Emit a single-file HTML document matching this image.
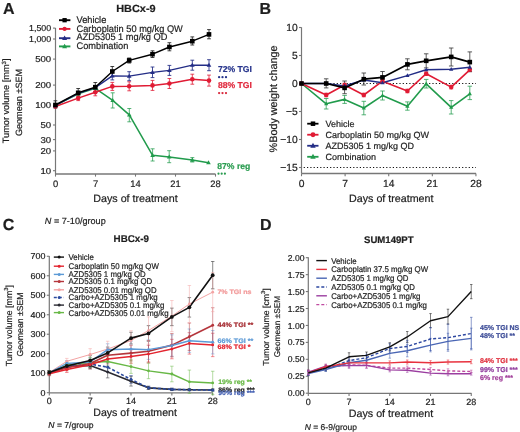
<!DOCTYPE html>
<html><head><meta charset="utf-8"><style>
html,body{margin:0;padding:0;background:#fff;}
svg{display:block;font-family:"Liberation Sans", sans-serif;text-rendering:geometricPrecision;will-change:transform;}

</style></head><body>
<svg width="520" height="432" viewBox="0 0 520 432">
<rect width="520" height="432" fill="#fff"/>
<text x="2.90" y="13.60" font-size="16" fill="#1e1e1e" stroke="#1e1e1e" stroke-width="0.2" font-weight="bold" text-anchor="start" >A</text>
<text transform="translate(135.90,12.10) scale(1.06,1)" font-size="10.3" fill="#1e1e1e" stroke="#1e1e1e" stroke-width="0.2" font-weight="bold" text-anchor="middle" >HBCx-9</text>
<line x1="55.50" y1="28.00" x2="55.50" y2="174.00" stroke="#777" stroke-width="1.2" opacity="1"/>
<line x1="53.00" y1="28.10" x2="55.50" y2="28.10" stroke="#777" stroke-width="1.1" opacity="1"/>
<text transform="translate(51.20,31.20) scale(1.03,1)" font-size="8.6" fill="#1e1e1e" stroke="#1e1e1e" stroke-width="0.2" font-weight="normal" text-anchor="end" >1,500</text>
<line x1="53.00" y1="39.00" x2="55.50" y2="39.00" stroke="#777" stroke-width="1.1" opacity="1"/>
<text transform="translate(51.20,42.10) scale(1.03,1)" font-size="8.6" fill="#1e1e1e" stroke="#1e1e1e" stroke-width="0.2" font-weight="normal" text-anchor="end" >1,000</text>
<line x1="53.00" y1="59.10" x2="55.50" y2="59.10" stroke="#777" stroke-width="1.1" opacity="1"/>
<text transform="translate(51.20,62.20) scale(1.12,1)" font-size="8.6" fill="#1e1e1e" stroke="#1e1e1e" stroke-width="0.2" font-weight="normal" text-anchor="end" >500</text>
<line x1="53.00" y1="85.10" x2="55.50" y2="85.10" stroke="#777" stroke-width="1.1" opacity="1"/>
<text transform="translate(51.20,88.20) scale(1.12,1)" font-size="8.6" fill="#1e1e1e" stroke="#1e1e1e" stroke-width="0.2" font-weight="normal" text-anchor="end" >200</text>
<line x1="53.00" y1="105.20" x2="55.50" y2="105.20" stroke="#777" stroke-width="1.1" opacity="1"/>
<text transform="translate(51.20,108.30) scale(1.12,1)" font-size="8.6" fill="#1e1e1e" stroke="#1e1e1e" stroke-width="0.2" font-weight="normal" text-anchor="end" >100</text>
<line x1="53.00" y1="125.00" x2="55.50" y2="125.00" stroke="#777" stroke-width="1.1" opacity="1"/>
<text transform="translate(51.20,128.10) scale(1.12,1)" font-size="8.6" fill="#1e1e1e" stroke="#1e1e1e" stroke-width="0.2" font-weight="normal" text-anchor="end" >50</text>
<line x1="53.00" y1="139.60" x2="55.50" y2="139.60" stroke="#777" stroke-width="1.1" opacity="1"/>
<text transform="translate(51.20,142.70) scale(1.12,1)" font-size="8.6" fill="#1e1e1e" stroke="#1e1e1e" stroke-width="0.2" font-weight="normal" text-anchor="end" >30</text>
<line x1="53.00" y1="150.90" x2="55.50" y2="150.90" stroke="#777" stroke-width="1.1" opacity="1"/>
<text transform="translate(51.20,154.00) scale(1.12,1)" font-size="8.6" fill="#1e1e1e" stroke="#1e1e1e" stroke-width="0.2" font-weight="normal" text-anchor="end" >20</text>
<line x1="53.00" y1="170.70" x2="55.50" y2="170.70" stroke="#777" stroke-width="1.1" opacity="1"/>
<text transform="translate(51.20,173.80) scale(1.12,1)" font-size="8.6" fill="#1e1e1e" stroke="#1e1e1e" stroke-width="0.2" font-weight="normal" text-anchor="end" >10</text>
<line x1="55.50" y1="174.00" x2="215.50" y2="174.00" stroke="#777" stroke-width="1.3" opacity="1"/>
<line x1="55.50" y1="174.00" x2="55.50" y2="176.60" stroke="#777" stroke-width="1.1" opacity="1"/>
<text x="55.50" y="186.60" font-size="9.4" fill="#1e1e1e" stroke="#1e1e1e" stroke-width="0.2" font-weight="normal" text-anchor="middle" >0</text>
<line x1="95.50" y1="174.00" x2="95.50" y2="176.60" stroke="#777" stroke-width="1.1" opacity="1"/>
<text x="95.50" y="186.60" font-size="9.4" fill="#1e1e1e" stroke="#1e1e1e" stroke-width="0.2" font-weight="normal" text-anchor="middle" >7</text>
<line x1="135.50" y1="174.00" x2="135.50" y2="176.60" stroke="#777" stroke-width="1.1" opacity="1"/>
<text x="135.50" y="186.60" font-size="9.4" fill="#1e1e1e" stroke="#1e1e1e" stroke-width="0.2" font-weight="normal" text-anchor="middle" >14</text>
<line x1="175.50" y1="174.00" x2="175.50" y2="176.60" stroke="#777" stroke-width="1.1" opacity="1"/>
<text x="175.50" y="186.60" font-size="9.4" fill="#1e1e1e" stroke="#1e1e1e" stroke-width="0.2" font-weight="normal" text-anchor="middle" >21</text>
<line x1="215.50" y1="174.00" x2="215.50" y2="176.60" stroke="#777" stroke-width="1.1" opacity="1"/>
<text x="215.50" y="186.60" font-size="9.4" fill="#1e1e1e" stroke="#1e1e1e" stroke-width="0.2" font-weight="normal" text-anchor="middle" >28</text>
<text x="135.50" y="202.20" font-size="10.7" fill="#1e1e1e" stroke="#1e1e1e" stroke-width="0.2" font-weight="normal" text-anchor="middle" >Days of treatment</text>
<text transform="translate(9.2,100.9) rotate(-90)" font-size="9.2" fill="#1e1e1e" stroke="#1e1e1e" stroke-width="0.2" text-anchor="middle">Tumor volume [mm<tspan font-size="6" dy="-3.5">3</tspan><tspan dy="3.5">]</tspan></text>
<text transform="translate(21.6,102.5) rotate(-90)" font-size="9.1" fill="#1e1e1e" stroke="#1e1e1e" stroke-width="0.2" text-anchor="middle">Geomean ±SEM</text>
<line x1="59.00" y1="20.20" x2="70.40" y2="20.20" stroke="#000" stroke-width="1.9" opacity="1"/>
<rect x="62.45" y="18.05" width="4.3" height="4.3" fill="#000"/>
<text transform="translate(76.50,23.10) scale(0.963,1)" font-size="9.6" fill="#1e1e1e" stroke="#1e1e1e" stroke-width="0.2" font-weight="normal" text-anchor="start" >Vehicle</text>
<line x1="59.00" y1="28.90" x2="70.40" y2="28.90" stroke="#e01b34" stroke-width="1.9" opacity="1"/>
<circle cx="64.60" cy="28.90" r="2.15" fill="#e01b34"/>
<text transform="translate(76.50,31.90) scale(0.963,1)" font-size="9.6" fill="#1e1e1e" stroke="#1e1e1e" stroke-width="0.2" font-weight="normal" text-anchor="start" >Carboplatin 50 mg/kg QW</text>
<line x1="59.00" y1="38.20" x2="70.40" y2="38.20" stroke="#232d86" stroke-width="1.9" opacity="1"/>
<polygon points="64.60,35.50 62.10,40.00 67.10,40.00" fill="#232d86"/>
<text transform="translate(76.50,40.40) scale(0.963,1)" font-size="9.6" fill="#1e1e1e" stroke="#1e1e1e" stroke-width="0.2" font-weight="normal" text-anchor="start" >AZD5305 1 mg/kg QD</text>
<line x1="59.00" y1="46.40" x2="70.40" y2="46.40" stroke="#219b4c" stroke-width="1.9" opacity="1"/>
<polygon points="64.60,43.70 62.10,48.20 67.10,48.20" fill="#219b4c"/>
<text transform="translate(76.50,48.70) scale(0.963,1)" font-size="9.6" fill="#1e1e1e" stroke="#1e1e1e" stroke-width="0.2" font-weight="normal" text-anchor="start" >Combination</text>
<line x1="112.70" y1="92.80" x2="112.70" y2="108.00" stroke="#219b4c" stroke-width="1" opacity="0.75"/>
<line x1="110.70" y1="92.80" x2="114.70" y2="92.80" stroke="#219b4c" stroke-width="1" opacity="0.75"/>
<line x1="110.70" y1="108.00" x2="114.70" y2="108.00" stroke="#219b4c" stroke-width="1" opacity="0.75"/>
<line x1="129.30" y1="108.50" x2="129.30" y2="121.80" stroke="#219b4c" stroke-width="1" opacity="0.75"/>
<line x1="127.30" y1="108.50" x2="131.30" y2="108.50" stroke="#219b4c" stroke-width="1" opacity="0.75"/>
<line x1="127.30" y1="121.80" x2="131.30" y2="121.80" stroke="#219b4c" stroke-width="1" opacity="0.75"/>
<line x1="152.60" y1="148.80" x2="152.60" y2="161.00" stroke="#219b4c" stroke-width="1" opacity="0.75"/>
<line x1="150.60" y1="148.80" x2="154.60" y2="148.80" stroke="#219b4c" stroke-width="1" opacity="0.75"/>
<line x1="150.60" y1="161.00" x2="154.60" y2="161.00" stroke="#219b4c" stroke-width="1" opacity="0.75"/>
<line x1="169.20" y1="150.70" x2="169.20" y2="162.70" stroke="#219b4c" stroke-width="1" opacity="0.75"/>
<line x1="167.20" y1="150.70" x2="171.20" y2="150.70" stroke="#219b4c" stroke-width="1" opacity="0.75"/>
<line x1="167.20" y1="162.70" x2="171.20" y2="162.70" stroke="#219b4c" stroke-width="1" opacity="0.75"/>
<line x1="192.30" y1="157.60" x2="192.30" y2="162.00" stroke="#219b4c" stroke-width="1" opacity="0.75"/>
<line x1="190.30" y1="157.60" x2="194.30" y2="157.60" stroke="#219b4c" stroke-width="1" opacity="0.75"/>
<line x1="190.30" y1="162.00" x2="194.30" y2="162.00" stroke="#219b4c" stroke-width="1" opacity="0.75"/>
<line x1="78.20" y1="95.60" x2="78.20" y2="100.60" stroke="#e01b34" stroke-width="1" opacity="0.8"/>
<line x1="76.30" y1="95.60" x2="80.10" y2="95.60" stroke="#e01b34" stroke-width="1" opacity="0.8"/>
<line x1="76.30" y1="100.60" x2="80.10" y2="100.60" stroke="#e01b34" stroke-width="1" opacity="0.8"/>
<line x1="95.30" y1="88.80" x2="95.30" y2="95.80" stroke="#e01b34" stroke-width="1" opacity="0.8"/>
<line x1="93.40" y1="88.80" x2="97.20" y2="88.80" stroke="#e01b34" stroke-width="1" opacity="0.8"/>
<line x1="93.40" y1="95.80" x2="97.20" y2="95.80" stroke="#e01b34" stroke-width="1" opacity="0.8"/>
<line x1="112.30" y1="82.40" x2="112.30" y2="90.40" stroke="#e01b34" stroke-width="1" opacity="0.8"/>
<line x1="110.40" y1="82.40" x2="114.20" y2="82.40" stroke="#e01b34" stroke-width="1" opacity="0.8"/>
<line x1="110.40" y1="90.40" x2="114.20" y2="90.40" stroke="#e01b34" stroke-width="1" opacity="0.8"/>
<line x1="129.20" y1="81.80" x2="129.20" y2="90.80" stroke="#e01b34" stroke-width="1" opacity="0.8"/>
<line x1="127.30" y1="81.80" x2="131.10" y2="81.80" stroke="#e01b34" stroke-width="1" opacity="0.8"/>
<line x1="127.30" y1="90.80" x2="131.10" y2="90.80" stroke="#e01b34" stroke-width="1" opacity="0.8"/>
<line x1="152.50" y1="80.40" x2="152.50" y2="90.40" stroke="#e01b34" stroke-width="1" opacity="0.8"/>
<line x1="150.60" y1="80.40" x2="154.40" y2="80.40" stroke="#e01b34" stroke-width="1" opacity="0.8"/>
<line x1="150.60" y1="90.40" x2="154.40" y2="90.40" stroke="#e01b34" stroke-width="1" opacity="0.8"/>
<line x1="169.40" y1="78.50" x2="169.40" y2="88.50" stroke="#e01b34" stroke-width="1" opacity="0.8"/>
<line x1="167.50" y1="78.50" x2="171.30" y2="78.50" stroke="#e01b34" stroke-width="1" opacity="0.8"/>
<line x1="167.50" y1="88.50" x2="171.30" y2="88.50" stroke="#e01b34" stroke-width="1" opacity="0.8"/>
<line x1="192.30" y1="74.20" x2="192.30" y2="84.20" stroke="#e01b34" stroke-width="1" opacity="0.8"/>
<line x1="190.40" y1="74.20" x2="194.20" y2="74.20" stroke="#e01b34" stroke-width="1" opacity="0.8"/>
<line x1="190.40" y1="84.20" x2="194.20" y2="84.20" stroke="#e01b34" stroke-width="1" opacity="0.8"/>
<line x1="209.00" y1="75.10" x2="209.00" y2="86.10" stroke="#e01b34" stroke-width="1" opacity="0.8"/>
<line x1="207.10" y1="75.10" x2="210.90" y2="75.10" stroke="#e01b34" stroke-width="1" opacity="0.8"/>
<line x1="207.10" y1="86.10" x2="210.90" y2="86.10" stroke="#e01b34" stroke-width="1" opacity="0.8"/>
<line x1="112.30" y1="71.90" x2="112.30" y2="79.90" stroke="#232d86" stroke-width="1" opacity="0.85"/>
<line x1="110.40" y1="71.90" x2="114.20" y2="71.90" stroke="#232d86" stroke-width="1" opacity="0.85"/>
<line x1="110.40" y1="79.90" x2="114.20" y2="79.90" stroke="#232d86" stroke-width="1" opacity="0.85"/>
<line x1="129.20" y1="71.70" x2="129.20" y2="80.70" stroke="#232d86" stroke-width="1" opacity="0.85"/>
<line x1="127.30" y1="71.70" x2="131.10" y2="71.70" stroke="#232d86" stroke-width="1" opacity="0.85"/>
<line x1="127.30" y1="80.70" x2="131.10" y2="80.70" stroke="#232d86" stroke-width="1" opacity="0.85"/>
<line x1="152.50" y1="67.00" x2="152.50" y2="77.60" stroke="#232d86" stroke-width="1" opacity="0.85"/>
<line x1="150.60" y1="67.00" x2="154.40" y2="67.00" stroke="#232d86" stroke-width="1" opacity="0.85"/>
<line x1="150.60" y1="77.60" x2="154.40" y2="77.60" stroke="#232d86" stroke-width="1" opacity="0.85"/>
<line x1="169.40" y1="65.40" x2="169.40" y2="75.40" stroke="#232d86" stroke-width="1" opacity="0.85"/>
<line x1="167.50" y1="65.40" x2="171.30" y2="65.40" stroke="#232d86" stroke-width="1" opacity="0.85"/>
<line x1="167.50" y1="75.40" x2="171.30" y2="75.40" stroke="#232d86" stroke-width="1" opacity="0.85"/>
<line x1="192.30" y1="60.20" x2="192.30" y2="70.20" stroke="#232d86" stroke-width="1" opacity="0.85"/>
<line x1="190.40" y1="60.20" x2="194.20" y2="60.20" stroke="#232d86" stroke-width="1" opacity="0.85"/>
<line x1="190.40" y1="70.20" x2="194.20" y2="70.20" stroke="#232d86" stroke-width="1" opacity="0.85"/>
<line x1="209.00" y1="59.70" x2="209.00" y2="70.70" stroke="#232d86" stroke-width="1" opacity="0.85"/>
<line x1="207.10" y1="59.70" x2="210.90" y2="59.70" stroke="#232d86" stroke-width="1" opacity="0.85"/>
<line x1="207.10" y1="70.70" x2="210.90" y2="70.70" stroke="#232d86" stroke-width="1" opacity="0.85"/>
<line x1="55.40" y1="100.80" x2="55.40" y2="108.00" stroke="#222" stroke-width="1" opacity="0.85"/>
<line x1="53.50" y1="100.80" x2="57.30" y2="100.80" stroke="#222" stroke-width="1" opacity="0.85"/>
<line x1="53.50" y1="108.00" x2="57.30" y2="108.00" stroke="#222" stroke-width="1" opacity="0.85"/>
<line x1="78.20" y1="88.50" x2="78.20" y2="97.00" stroke="#222" stroke-width="1" opacity="0.85"/>
<line x1="76.30" y1="88.50" x2="80.10" y2="88.50" stroke="#222" stroke-width="1" opacity="0.85"/>
<line x1="76.30" y1="97.00" x2="80.10" y2="97.00" stroke="#222" stroke-width="1" opacity="0.85"/>
<line x1="95.30" y1="82.50" x2="95.30" y2="91.50" stroke="#222" stroke-width="1" opacity="0.85"/>
<line x1="93.40" y1="82.50" x2="97.20" y2="82.50" stroke="#222" stroke-width="1" opacity="0.85"/>
<line x1="93.40" y1="91.50" x2="97.20" y2="91.50" stroke="#222" stroke-width="1" opacity="0.85"/>
<line x1="112.30" y1="66.50" x2="112.30" y2="76.50" stroke="#222" stroke-width="1" opacity="0.85"/>
<line x1="110.40" y1="66.50" x2="114.20" y2="66.50" stroke="#222" stroke-width="1" opacity="0.85"/>
<line x1="110.40" y1="76.50" x2="114.20" y2="76.50" stroke="#222" stroke-width="1" opacity="0.85"/>
<line x1="129.20" y1="58.00" x2="129.20" y2="63.00" stroke="#222" stroke-width="1" opacity="0.85"/>
<line x1="127.30" y1="58.00" x2="131.10" y2="58.00" stroke="#222" stroke-width="1" opacity="0.85"/>
<line x1="127.30" y1="63.00" x2="131.10" y2="63.00" stroke="#222" stroke-width="1" opacity="0.85"/>
<line x1="152.50" y1="50.80" x2="152.50" y2="57.50" stroke="#222" stroke-width="1" opacity="0.85"/>
<line x1="150.60" y1="50.80" x2="154.40" y2="50.80" stroke="#222" stroke-width="1" opacity="0.85"/>
<line x1="150.60" y1="57.50" x2="154.40" y2="57.50" stroke="#222" stroke-width="1" opacity="0.85"/>
<line x1="169.40" y1="42.70" x2="169.40" y2="50.80" stroke="#222" stroke-width="1" opacity="0.85"/>
<line x1="167.50" y1="42.70" x2="171.30" y2="42.70" stroke="#222" stroke-width="1" opacity="0.85"/>
<line x1="167.50" y1="50.80" x2="171.30" y2="50.80" stroke="#222" stroke-width="1" opacity="0.85"/>
<line x1="192.30" y1="36.90" x2="192.30" y2="45.00" stroke="#222" stroke-width="1" opacity="0.85"/>
<line x1="190.40" y1="36.90" x2="194.20" y2="36.90" stroke="#222" stroke-width="1" opacity="0.85"/>
<line x1="190.40" y1="45.00" x2="194.20" y2="45.00" stroke="#222" stroke-width="1" opacity="0.85"/>
<line x1="209.00" y1="29.60" x2="209.00" y2="38.80" stroke="#222" stroke-width="1" opacity="0.85"/>
<line x1="207.10" y1="29.60" x2="210.90" y2="29.60" stroke="#222" stroke-width="1" opacity="0.85"/>
<line x1="207.10" y1="38.80" x2="210.90" y2="38.80" stroke="#222" stroke-width="1" opacity="0.85"/>
<polyline points="55.40,105.30 78.20,93.80 95.30,88.30 112.70,100.40 129.30,114.90 152.60,155.30 169.20,156.90 192.30,160.00 208.50,162.70" fill="none" stroke="#219b4c" stroke-width="1.5" stroke-linejoin="round" opacity="1"/>
<polyline points="55.40,106.50 78.20,98.10 95.30,92.30 112.30,86.40 129.20,86.30 152.50,85.40 169.40,83.50 192.30,79.20 209.00,80.60" fill="none" stroke="#e01b34" stroke-width="1.5" stroke-linejoin="round" opacity="1"/>
<polyline points="55.40,105.50 78.20,93.30 95.30,87.60 112.30,75.90 129.20,76.20 152.50,72.30 169.40,70.40 192.30,65.20 209.00,65.20" fill="none" stroke="#232d86" stroke-width="1.35" stroke-linejoin="round" opacity="1"/>
<polyline points="55.40,105.00 78.20,92.80 95.30,87.20 112.30,71.50 129.20,60.40 152.50,54.20 169.40,47.00 192.30,41.20 209.00,34.40" fill="none" stroke="#000" stroke-width="1.45" stroke-linejoin="round" opacity="1"/>
<polygon points="55.40,102.82 53.10,106.96 57.70,106.96" fill="#219b4c"/>
<polygon points="78.20,91.32 75.90,95.46 80.50,95.46" fill="#219b4c"/>
<polygon points="95.30,85.82 93.00,89.96 97.60,89.96" fill="#219b4c"/>
<polygon points="112.70,97.92 110.40,102.06 115.00,102.06" fill="#219b4c"/>
<polygon points="129.30,112.42 127.00,116.56 131.60,116.56" fill="#219b4c"/>
<polygon points="152.60,152.82 150.30,156.96 154.90,156.96" fill="#219b4c"/>
<polygon points="169.20,154.42 166.90,158.56 171.50,158.56" fill="#219b4c"/>
<polygon points="192.30,157.52 190.00,161.66 194.60,161.66" fill="#219b4c"/>
<polygon points="208.50,160.22 206.20,164.36 210.80,164.36" fill="#219b4c"/>
<circle cx="55.40" cy="106.50" r="2.3" fill="#e01b34"/>
<circle cx="78.20" cy="98.10" r="2.3" fill="#e01b34"/>
<circle cx="95.30" cy="92.30" r="2.3" fill="#e01b34"/>
<circle cx="112.30" cy="86.40" r="2.3" fill="#e01b34"/>
<circle cx="129.20" cy="86.30" r="2.3" fill="#e01b34"/>
<circle cx="152.50" cy="85.40" r="2.3" fill="#e01b34"/>
<circle cx="169.40" cy="83.50" r="2.3" fill="#e01b34"/>
<circle cx="192.30" cy="79.20" r="2.3" fill="#e01b34"/>
<circle cx="209.00" cy="80.60" r="2.3" fill="#e01b34"/>
<polygon points="55.40,103.02 53.10,107.16 57.70,107.16" fill="#232d86"/>
<polygon points="78.20,90.82 75.90,94.96 80.50,94.96" fill="#232d86"/>
<polygon points="95.30,85.12 93.00,89.26 97.60,89.26" fill="#232d86"/>
<polygon points="112.30,73.42 110.00,77.56 114.60,77.56" fill="#232d86"/>
<polygon points="129.20,73.72 126.90,77.86 131.50,77.86" fill="#232d86"/>
<polygon points="152.50,69.82 150.20,73.96 154.80,73.96" fill="#232d86"/>
<polygon points="169.40,67.92 167.10,72.06 171.70,72.06" fill="#232d86"/>
<polygon points="192.30,62.72 190.00,66.86 194.60,66.86" fill="#232d86"/>
<polygon points="209.00,62.72 206.70,66.86 211.30,66.86" fill="#232d86"/>
<rect x="53.10" y="102.70" width="4.6" height="4.6" fill="#000"/>
<rect x="75.90" y="90.50" width="4.6" height="4.6" fill="#000"/>
<rect x="93.00" y="84.90" width="4.6" height="4.6" fill="#000"/>
<rect x="110.00" y="69.20" width="4.6" height="4.6" fill="#000"/>
<rect x="126.90" y="58.10" width="4.6" height="4.6" fill="#000"/>
<rect x="150.20" y="51.90" width="4.6" height="4.6" fill="#000"/>
<rect x="167.10" y="44.70" width="4.6" height="4.6" fill="#000"/>
<rect x="190.00" y="38.90" width="4.6" height="4.6" fill="#000"/>
<rect x="206.70" y="32.10" width="4.6" height="4.6" fill="#000"/>
<text x="218.00" y="71.90" font-size="8.6" fill="#27358c" stroke="#27358c" stroke-width="0.2" font-weight="bold" text-anchor="start" >72% TGI</text>
<circle cx="219.10" cy="77.20" r="1.15" fill="#27358c"/>
<circle cx="222.50" cy="77.20" r="1.15" fill="#27358c"/>
<circle cx="226.00" cy="77.20" r="1.15" fill="#27358c"/>
<text x="218.00" y="88.00" font-size="8.6" fill="#e0283c" stroke="#e0283c" stroke-width="0.2" font-weight="bold" text-anchor="start" >88% TGI</text>
<circle cx="219.10" cy="93.10" r="1.15" fill="#d8283c"/>
<circle cx="222.50" cy="93.10" r="1.15" fill="#d8283c"/>
<circle cx="226.00" cy="93.10" r="1.15" fill="#d8283c"/>
<text x="217.30" y="168.50" font-size="8.6" fill="#2a9c50" stroke="#2a9c50" stroke-width="0.2" font-weight="bold" text-anchor="start" >87% reg</text>
<circle cx="218.50" cy="173.70" r="1.1" fill="#2a9c50"/>
<circle cx="221.70" cy="173.70" r="1.1" fill="#2a9c50"/>
<circle cx="224.90" cy="173.70" r="1.1" fill="#2a9c50"/>
<text x="259.60" y="13.60" font-size="16" fill="#1e1e1e" stroke="#1e1e1e" stroke-width="0.2" font-weight="bold" text-anchor="start" >B</text>
<line x1="301.50" y1="27.30" x2="301.50" y2="173.50" stroke="#777" stroke-width="1.2" opacity="1"/>
<line x1="299.00" y1="27.50" x2="301.50" y2="27.50" stroke="#777" stroke-width="1.1" opacity="1"/>
<text x="297.70" y="31.10" font-size="10.3" fill="#1e1e1e" stroke="#1e1e1e" stroke-width="0.2" font-weight="normal" text-anchor="end" >10</text>
<line x1="299.00" y1="55.50" x2="301.50" y2="55.50" stroke="#777" stroke-width="1.1" opacity="1"/>
<text x="297.70" y="59.10" font-size="10.3" fill="#1e1e1e" stroke="#1e1e1e" stroke-width="0.2" font-weight="normal" text-anchor="end" >5</text>
<line x1="299.00" y1="83.50" x2="301.50" y2="83.50" stroke="#777" stroke-width="1.1" opacity="1"/>
<text x="297.70" y="87.10" font-size="10.3" fill="#1e1e1e" stroke="#1e1e1e" stroke-width="0.2" font-weight="normal" text-anchor="end" >0</text>
<line x1="299.00" y1="111.50" x2="301.50" y2="111.50" stroke="#777" stroke-width="1.1" opacity="1"/>
<text x="297.70" y="115.10" font-size="10.3" fill="#1e1e1e" stroke="#1e1e1e" stroke-width="0.2" font-weight="normal" text-anchor="end" >−5</text>
<line x1="299.00" y1="139.50" x2="301.50" y2="139.50" stroke="#777" stroke-width="1.1" opacity="1"/>
<text x="297.70" y="143.10" font-size="10.3" fill="#1e1e1e" stroke="#1e1e1e" stroke-width="0.2" font-weight="normal" text-anchor="end" >−10</text>
<line x1="299.00" y1="167.50" x2="301.50" y2="167.50" stroke="#777" stroke-width="1.1" opacity="1"/>
<text x="297.70" y="171.10" font-size="10.3" fill="#1e1e1e" stroke="#1e1e1e" stroke-width="0.2" font-weight="normal" text-anchor="end" >−15</text>
<line x1="301.50" y1="173.50" x2="476.00" y2="173.50" stroke="#777" stroke-width="1.3" opacity="1"/>
<line x1="301.50" y1="173.50" x2="301.50" y2="176.20" stroke="#777" stroke-width="1.1" opacity="1"/>
<text x="301.50" y="187.00" font-size="10.3" fill="#1e1e1e" stroke="#1e1e1e" stroke-width="0.2" font-weight="normal" text-anchor="middle" >0</text>
<line x1="345.11" y1="173.50" x2="345.11" y2="176.20" stroke="#777" stroke-width="1.1" opacity="1"/>
<text x="345.11" y="187.00" font-size="10.3" fill="#1e1e1e" stroke="#1e1e1e" stroke-width="0.2" font-weight="normal" text-anchor="middle" >7</text>
<line x1="388.72" y1="173.50" x2="388.72" y2="176.20" stroke="#777" stroke-width="1.1" opacity="1"/>
<text x="388.72" y="187.00" font-size="10.3" fill="#1e1e1e" stroke="#1e1e1e" stroke-width="0.2" font-weight="normal" text-anchor="middle" >14</text>
<line x1="432.33" y1="173.50" x2="432.33" y2="176.20" stroke="#777" stroke-width="1.1" opacity="1"/>
<text x="432.33" y="187.00" font-size="10.3" fill="#1e1e1e" stroke="#1e1e1e" stroke-width="0.2" font-weight="normal" text-anchor="middle" >21</text>
<line x1="475.94" y1="173.50" x2="475.94" y2="176.20" stroke="#777" stroke-width="1.1" opacity="1"/>
<text x="475.94" y="187.00" font-size="10.3" fill="#1e1e1e" stroke="#1e1e1e" stroke-width="0.2" font-weight="normal" text-anchor="middle" >28</text>
<text x="391.30" y="201.80" font-size="10.7" fill="#1e1e1e" stroke="#1e1e1e" stroke-width="0.2" font-weight="normal" text-anchor="middle" >Days of treatment</text>
<text transform="translate(277.3,99.0) rotate(-90)" font-size="10.8" fill="#1e1e1e" stroke="#1e1e1e" stroke-width="0.2" text-anchor="middle">%Body weight change</text>
<line x1="303.70" y1="83.50" x2="476.00" y2="83.50" stroke="#111" stroke-width="1.1" stroke-dasharray="1.2,2.1" opacity="1"/>
<line x1="303.70" y1="167.50" x2="476.00" y2="167.50" stroke="#111" stroke-width="1.1" stroke-dasharray="1.2,2.1" opacity="1"/>
<line x1="307.20" y1="123.70" x2="318.50" y2="123.70" stroke="#000" stroke-width="1.8" opacity="1"/>
<rect x="310.75" y="121.45" width="4.5" height="4.5" fill="#000"/>
<text x="325.40" y="126.60" font-size="9.0" fill="#1e1e1e" stroke="#1e1e1e" stroke-width="0.2" font-weight="normal" text-anchor="start" >Vehicle</text>
<line x1="307.20" y1="134.73" x2="318.50" y2="134.73" stroke="#e01b34" stroke-width="1.8" opacity="1"/>
<circle cx="313.00" cy="134.73" r="2.4" fill="#e01b34"/>
<text x="325.40" y="137.63" font-size="9.0" fill="#1e1e1e" stroke="#1e1e1e" stroke-width="0.2" font-weight="normal" text-anchor="start" >Carboplatin 50 mg/kg QW</text>
<line x1="307.20" y1="145.76" x2="318.50" y2="145.76" stroke="#232d86" stroke-width="1.8" opacity="1"/>
<polygon points="313.00,142.84 310.30,147.70 315.70,147.70" fill="#232d86"/>
<text x="325.40" y="148.66" font-size="9.0" fill="#1e1e1e" stroke="#1e1e1e" stroke-width="0.2" font-weight="normal" text-anchor="start" >AZD5305 1 mg/kg QD</text>
<line x1="307.20" y1="156.79" x2="318.50" y2="156.79" stroke="#219b4c" stroke-width="1.8" opacity="1"/>
<polygon points="313.00,153.87 310.30,158.73 315.70,158.73" fill="#219b4c"/>
<text x="325.40" y="159.69" font-size="9.0" fill="#1e1e1e" stroke="#1e1e1e" stroke-width="0.2" font-weight="normal" text-anchor="start" >Combination</text>
<line x1="326.20" y1="98.50" x2="326.20" y2="109.00" stroke="#219b4c" stroke-width="1" opacity="0.75"/>
<line x1="323.95" y1="98.50" x2="328.45" y2="98.50" stroke="#219b4c" stroke-width="1" opacity="0.75"/>
<line x1="323.95" y1="109.00" x2="328.45" y2="109.00" stroke="#219b4c" stroke-width="1" opacity="0.75"/>
<line x1="344.60" y1="95.40" x2="344.60" y2="103.40" stroke="#219b4c" stroke-width="1" opacity="0.75"/>
<line x1="342.35" y1="95.40" x2="346.85" y2="95.40" stroke="#219b4c" stroke-width="1" opacity="0.75"/>
<line x1="342.35" y1="103.40" x2="346.85" y2="103.40" stroke="#219b4c" stroke-width="1" opacity="0.75"/>
<line x1="363.80" y1="101.30" x2="363.80" y2="114.80" stroke="#219b4c" stroke-width="1" opacity="0.75"/>
<line x1="361.55" y1="101.30" x2="366.05" y2="101.30" stroke="#219b4c" stroke-width="1" opacity="0.75"/>
<line x1="361.55" y1="114.80" x2="366.05" y2="114.80" stroke="#219b4c" stroke-width="1" opacity="0.75"/>
<line x1="382.50" y1="91.00" x2="382.50" y2="100.00" stroke="#219b4c" stroke-width="1" opacity="0.75"/>
<line x1="380.25" y1="91.00" x2="384.75" y2="91.00" stroke="#219b4c" stroke-width="1" opacity="0.75"/>
<line x1="380.25" y1="100.00" x2="384.75" y2="100.00" stroke="#219b4c" stroke-width="1" opacity="0.75"/>
<line x1="407.40" y1="101.90" x2="407.40" y2="110.20" stroke="#219b4c" stroke-width="1" opacity="0.75"/>
<line x1="405.15" y1="101.90" x2="409.65" y2="101.90" stroke="#219b4c" stroke-width="1" opacity="0.75"/>
<line x1="405.15" y1="110.20" x2="409.65" y2="110.20" stroke="#219b4c" stroke-width="1" opacity="0.75"/>
<line x1="426.20" y1="79.40" x2="426.20" y2="88.00" stroke="#219b4c" stroke-width="1" opacity="0.75"/>
<line x1="423.95" y1="79.40" x2="428.45" y2="79.40" stroke="#219b4c" stroke-width="1" opacity="0.75"/>
<line x1="423.95" y1="88.00" x2="428.45" y2="88.00" stroke="#219b4c" stroke-width="1" opacity="0.75"/>
<line x1="451.20" y1="100.60" x2="451.20" y2="114.00" stroke="#219b4c" stroke-width="1" opacity="0.75"/>
<line x1="448.95" y1="100.60" x2="453.45" y2="100.60" stroke="#219b4c" stroke-width="1" opacity="0.75"/>
<line x1="448.95" y1="114.00" x2="453.45" y2="114.00" stroke="#219b4c" stroke-width="1" opacity="0.75"/>
<line x1="469.80" y1="86.20" x2="469.80" y2="99.60" stroke="#219b4c" stroke-width="1" opacity="0.75"/>
<line x1="467.55" y1="86.20" x2="472.05" y2="86.20" stroke="#219b4c" stroke-width="1" opacity="0.75"/>
<line x1="467.55" y1="99.60" x2="472.05" y2="99.60" stroke="#219b4c" stroke-width="1" opacity="0.75"/>
<line x1="326.20" y1="93.20" x2="326.20" y2="96.80" stroke="#e01b34" stroke-width="1" opacity="0.7"/>
<line x1="324.20" y1="93.20" x2="328.20" y2="93.20" stroke="#e01b34" stroke-width="1" opacity="0.7"/>
<line x1="324.20" y1="96.80" x2="328.20" y2="96.80" stroke="#e01b34" stroke-width="1" opacity="0.7"/>
<line x1="344.60" y1="83.20" x2="344.60" y2="86.80" stroke="#e01b34" stroke-width="1" opacity="0.7"/>
<line x1="342.60" y1="83.20" x2="346.60" y2="83.20" stroke="#e01b34" stroke-width="1" opacity="0.7"/>
<line x1="342.60" y1="86.80" x2="346.60" y2="86.80" stroke="#e01b34" stroke-width="1" opacity="0.7"/>
<line x1="363.80" y1="93.20" x2="363.80" y2="96.80" stroke="#e01b34" stroke-width="1" opacity="0.7"/>
<line x1="361.80" y1="93.20" x2="365.80" y2="93.20" stroke="#e01b34" stroke-width="1" opacity="0.7"/>
<line x1="361.80" y1="96.80" x2="365.80" y2="96.80" stroke="#e01b34" stroke-width="1" opacity="0.7"/>
<line x1="382.50" y1="79.40" x2="382.50" y2="83.00" stroke="#e01b34" stroke-width="1" opacity="0.7"/>
<line x1="380.50" y1="79.40" x2="384.50" y2="79.40" stroke="#e01b34" stroke-width="1" opacity="0.7"/>
<line x1="380.50" y1="83.00" x2="384.50" y2="83.00" stroke="#e01b34" stroke-width="1" opacity="0.7"/>
<line x1="407.40" y1="89.20" x2="407.40" y2="92.80" stroke="#e01b34" stroke-width="1" opacity="0.7"/>
<line x1="405.40" y1="89.20" x2="409.40" y2="89.20" stroke="#e01b34" stroke-width="1" opacity="0.7"/>
<line x1="405.40" y1="92.80" x2="409.40" y2="92.80" stroke="#e01b34" stroke-width="1" opacity="0.7"/>
<line x1="426.20" y1="71.90" x2="426.20" y2="75.50" stroke="#e01b34" stroke-width="1" opacity="0.7"/>
<line x1="424.20" y1="71.90" x2="428.20" y2="71.90" stroke="#e01b34" stroke-width="1" opacity="0.7"/>
<line x1="424.20" y1="75.50" x2="428.20" y2="75.50" stroke="#e01b34" stroke-width="1" opacity="0.7"/>
<line x1="451.20" y1="85.30" x2="451.20" y2="88.90" stroke="#e01b34" stroke-width="1" opacity="0.7"/>
<line x1="449.20" y1="85.30" x2="453.20" y2="85.30" stroke="#e01b34" stroke-width="1" opacity="0.7"/>
<line x1="449.20" y1="88.90" x2="453.20" y2="88.90" stroke="#e01b34" stroke-width="1" opacity="0.7"/>
<line x1="469.80" y1="68.00" x2="469.80" y2="71.60" stroke="#e01b34" stroke-width="1" opacity="0.7"/>
<line x1="467.80" y1="68.00" x2="471.80" y2="68.00" stroke="#e01b34" stroke-width="1" opacity="0.7"/>
<line x1="467.80" y1="71.60" x2="471.80" y2="71.60" stroke="#e01b34" stroke-width="1" opacity="0.7"/>
<line x1="326.20" y1="78.80" x2="326.20" y2="87.90" stroke="#333" stroke-width="1" opacity="0.8"/>
<line x1="323.95" y1="78.80" x2="328.45" y2="78.80" stroke="#333" stroke-width="1" opacity="0.8"/>
<line x1="323.95" y1="87.90" x2="328.45" y2="87.90" stroke="#333" stroke-width="1" opacity="0.8"/>
<line x1="344.60" y1="81.00" x2="344.60" y2="93.70" stroke="#333" stroke-width="1" opacity="0.8"/>
<line x1="342.35" y1="81.00" x2="346.85" y2="81.00" stroke="#333" stroke-width="1" opacity="0.8"/>
<line x1="342.35" y1="93.70" x2="346.85" y2="93.70" stroke="#333" stroke-width="1" opacity="0.8"/>
<line x1="363.80" y1="73.00" x2="363.80" y2="85.00" stroke="#333" stroke-width="1" opacity="0.8"/>
<line x1="361.55" y1="73.00" x2="366.05" y2="73.00" stroke="#333" stroke-width="1" opacity="0.8"/>
<line x1="361.55" y1="85.00" x2="366.05" y2="85.00" stroke="#333" stroke-width="1" opacity="0.8"/>
<line x1="382.50" y1="71.50" x2="382.50" y2="82.70" stroke="#333" stroke-width="1" opacity="0.8"/>
<line x1="380.25" y1="71.50" x2="384.75" y2="71.50" stroke="#333" stroke-width="1" opacity="0.8"/>
<line x1="380.25" y1="82.70" x2="384.75" y2="82.70" stroke="#333" stroke-width="1" opacity="0.8"/>
<line x1="407.40" y1="58.80" x2="407.40" y2="69.80" stroke="#333" stroke-width="1" opacity="0.8"/>
<line x1="405.15" y1="58.80" x2="409.65" y2="58.80" stroke="#333" stroke-width="1" opacity="0.8"/>
<line x1="405.15" y1="69.80" x2="409.65" y2="69.80" stroke="#333" stroke-width="1" opacity="0.8"/>
<line x1="426.20" y1="53.80" x2="426.20" y2="67.90" stroke="#333" stroke-width="1" opacity="0.8"/>
<line x1="423.95" y1="53.80" x2="428.45" y2="53.80" stroke="#333" stroke-width="1" opacity="0.8"/>
<line x1="423.95" y1="67.90" x2="428.45" y2="67.90" stroke="#333" stroke-width="1" opacity="0.8"/>
<line x1="451.20" y1="48.00" x2="451.20" y2="66.00" stroke="#333" stroke-width="1" opacity="0.8"/>
<line x1="448.95" y1="48.00" x2="453.45" y2="48.00" stroke="#333" stroke-width="1" opacity="0.8"/>
<line x1="448.95" y1="66.00" x2="453.45" y2="66.00" stroke="#333" stroke-width="1" opacity="0.8"/>
<line x1="469.80" y1="51.90" x2="469.80" y2="71.70" stroke="#333" stroke-width="1" opacity="0.8"/>
<line x1="467.55" y1="51.90" x2="472.05" y2="51.90" stroke="#333" stroke-width="1" opacity="0.8"/>
<line x1="467.55" y1="71.70" x2="472.05" y2="71.70" stroke="#333" stroke-width="1" opacity="0.8"/>
<polyline points="301.50,83.50 326.20,103.80 344.60,99.40 363.80,108.00 382.50,95.60 407.40,106.30 426.20,83.80 451.20,107.30 469.80,93.80" fill="none" stroke="#219b4c" stroke-width="1.6" stroke-linejoin="round" opacity="1"/>
<polyline points="301.50,83.50 326.20,95.00 344.60,85.00 363.80,95.00 382.50,81.20 407.40,91.00 426.20,73.70 451.20,87.10 469.80,69.80" fill="none" stroke="#e01b34" stroke-width="1.6" stroke-linejoin="round" opacity="1"/>
<polyline points="301.50,83.50 326.20,83.50 344.60,86.00 363.80,80.00 382.50,82.70 407.40,75.60 426.20,69.80 451.20,69.20 469.80,67.30" fill="none" stroke="#232d86" stroke-width="1.5" stroke-linejoin="round" opacity="1"/>
<polyline points="301.50,83.50 326.20,83.50 344.60,87.90 363.80,79.20 382.50,77.40 407.40,64.40 426.20,60.80 451.20,56.90 469.80,62.10" fill="none" stroke="#000" stroke-width="1.7" stroke-linejoin="round" opacity="1"/>
<polygon points="301.50,81.23 299.40,85.01 303.60,85.01" fill="#219b4c"/>
<polygon points="326.20,101.53 324.10,105.31 328.30,105.31" fill="#219b4c"/>
<polygon points="344.60,97.13 342.50,100.91 346.70,100.91" fill="#219b4c"/>
<polygon points="363.80,105.73 361.70,109.51 365.90,109.51" fill="#219b4c"/>
<polygon points="382.50,93.33 380.40,97.11 384.60,97.11" fill="#219b4c"/>
<polygon points="407.40,104.03 405.30,107.81 409.50,107.81" fill="#219b4c"/>
<polygon points="426.20,81.53 424.10,85.31 428.30,85.31" fill="#219b4c"/>
<polygon points="451.20,105.03 449.10,108.81 453.30,108.81" fill="#219b4c"/>
<polygon points="469.80,91.53 467.70,95.31 471.90,95.31" fill="#219b4c"/>
<circle cx="301.50" cy="83.50" r="2.3" fill="#e01b34"/>
<circle cx="326.20" cy="95.00" r="2.3" fill="#e01b34"/>
<circle cx="344.60" cy="85.00" r="2.3" fill="#e01b34"/>
<circle cx="363.80" cy="95.00" r="2.3" fill="#e01b34"/>
<circle cx="382.50" cy="81.20" r="2.3" fill="#e01b34"/>
<circle cx="407.40" cy="91.00" r="2.3" fill="#e01b34"/>
<circle cx="426.20" cy="73.70" r="2.3" fill="#e01b34"/>
<circle cx="451.20" cy="87.10" r="2.3" fill="#e01b34"/>
<circle cx="469.80" cy="69.80" r="2.3" fill="#e01b34"/>
<polygon points="301.50,81.23 299.40,85.01 303.60,85.01" fill="#232d86"/>
<polygon points="326.20,81.23 324.10,85.01 328.30,85.01" fill="#232d86"/>
<polygon points="344.60,83.73 342.50,87.51 346.70,87.51" fill="#232d86"/>
<polygon points="363.80,77.73 361.70,81.51 365.90,81.51" fill="#232d86"/>
<polygon points="382.50,80.43 380.40,84.21 384.60,84.21" fill="#232d86"/>
<polygon points="407.40,73.33 405.30,77.11 409.50,77.11" fill="#232d86"/>
<polygon points="426.20,67.53 424.10,71.31 428.30,71.31" fill="#232d86"/>
<polygon points="451.20,66.93 449.10,70.71 453.30,70.71" fill="#232d86"/>
<polygon points="469.80,65.03 467.70,68.81 471.90,68.81" fill="#232d86"/>
<rect x="299.20" y="81.20" width="4.6" height="4.6" fill="#000"/>
<rect x="323.90" y="81.20" width="4.6" height="4.6" fill="#000"/>
<rect x="342.30" y="85.60" width="4.6" height="4.6" fill="#000"/>
<rect x="361.50" y="76.90" width="4.6" height="4.6" fill="#000"/>
<rect x="380.20" y="75.10" width="4.6" height="4.6" fill="#000"/>
<rect x="405.10" y="62.10" width="4.6" height="4.6" fill="#000"/>
<rect x="423.90" y="58.50" width="4.6" height="4.6" fill="#000"/>
<rect x="448.90" y="54.60" width="4.6" height="4.6" fill="#000"/>
<rect x="467.50" y="59.80" width="4.6" height="4.6" fill="#000"/>
<text x="2.70" y="230.40" font-size="16" fill="#1e1e1e" stroke="#1e1e1e" stroke-width="0.2" font-weight="bold" text-anchor="start" >C</text>
<text x="44.80" y="223.90" font-size="9.1" fill="#1e1e1e" stroke="#1e1e1e" stroke-width="0.2" font-weight="normal" text-anchor="start" ><tspan font-style="italic">N</tspan> = 7-10/group</text>
<text x="131.30" y="242.30" font-size="9.8" fill="#1e1e1e" stroke="#1e1e1e" stroke-width="0.2" font-weight="bold" text-anchor="middle" >HBCx-9</text>
<line x1="49.30" y1="256.00" x2="49.30" y2="393.00" stroke="#777" stroke-width="1.2" opacity="1"/>
<line x1="46.80" y1="392.70" x2="49.30" y2="392.70" stroke="#777" stroke-width="1.1" opacity="1"/>
<text transform="translate(45.50,395.80) scale(1.04,1)" font-size="8.6" fill="#1e1e1e" stroke="#1e1e1e" stroke-width="0.2" font-weight="normal" text-anchor="end" >0</text>
<line x1="46.80" y1="373.21" x2="49.30" y2="373.21" stroke="#777" stroke-width="1.1" opacity="1"/>
<text transform="translate(45.50,376.31) scale(1.04,1)" font-size="8.6" fill="#1e1e1e" stroke="#1e1e1e" stroke-width="0.2" font-weight="normal" text-anchor="end" >100</text>
<line x1="46.80" y1="353.72" x2="49.30" y2="353.72" stroke="#777" stroke-width="1.1" opacity="1"/>
<text transform="translate(45.50,356.82) scale(1.04,1)" font-size="8.6" fill="#1e1e1e" stroke="#1e1e1e" stroke-width="0.2" font-weight="normal" text-anchor="end" >200</text>
<line x1="46.80" y1="334.23" x2="49.30" y2="334.23" stroke="#777" stroke-width="1.1" opacity="1"/>
<text transform="translate(45.50,337.33) scale(1.04,1)" font-size="8.6" fill="#1e1e1e" stroke="#1e1e1e" stroke-width="0.2" font-weight="normal" text-anchor="end" >300</text>
<line x1="46.80" y1="314.74" x2="49.30" y2="314.74" stroke="#777" stroke-width="1.1" opacity="1"/>
<text transform="translate(45.50,317.84) scale(1.04,1)" font-size="8.6" fill="#1e1e1e" stroke="#1e1e1e" stroke-width="0.2" font-weight="normal" text-anchor="end" >400</text>
<line x1="46.80" y1="295.25" x2="49.30" y2="295.25" stroke="#777" stroke-width="1.1" opacity="1"/>
<text transform="translate(45.50,298.35) scale(1.04,1)" font-size="8.6" fill="#1e1e1e" stroke="#1e1e1e" stroke-width="0.2" font-weight="normal" text-anchor="end" >500</text>
<line x1="46.80" y1="275.76" x2="49.30" y2="275.76" stroke="#777" stroke-width="1.1" opacity="1"/>
<text transform="translate(45.50,278.86) scale(1.04,1)" font-size="8.6" fill="#1e1e1e" stroke="#1e1e1e" stroke-width="0.2" font-weight="normal" text-anchor="end" >600</text>
<line x1="46.80" y1="256.27" x2="49.30" y2="256.27" stroke="#777" stroke-width="1.1" opacity="1"/>
<text transform="translate(45.50,259.37) scale(1.04,1)" font-size="8.6" fill="#1e1e1e" stroke="#1e1e1e" stroke-width="0.2" font-weight="normal" text-anchor="end" >700</text>
<line x1="49.30" y1="392.90" x2="212.90" y2="392.90" stroke="#777" stroke-width="1.3" opacity="1"/>
<line x1="49.30" y1="392.90" x2="49.30" y2="395.50" stroke="#777" stroke-width="1.1" opacity="1"/>
<text x="49.30" y="404.40" font-size="9" fill="#1e1e1e" stroke="#1e1e1e" stroke-width="0.2" font-weight="normal" text-anchor="middle" >0</text>
<line x1="90.15" y1="392.90" x2="90.15" y2="395.50" stroke="#777" stroke-width="1.1" opacity="1"/>
<text x="90.15" y="404.40" font-size="9" fill="#1e1e1e" stroke="#1e1e1e" stroke-width="0.2" font-weight="normal" text-anchor="middle" >7</text>
<line x1="131.00" y1="392.90" x2="131.00" y2="395.50" stroke="#777" stroke-width="1.1" opacity="1"/>
<text x="131.00" y="404.40" font-size="9" fill="#1e1e1e" stroke="#1e1e1e" stroke-width="0.2" font-weight="normal" text-anchor="middle" >14</text>
<line x1="171.86" y1="392.90" x2="171.86" y2="395.50" stroke="#777" stroke-width="1.1" opacity="1"/>
<text x="171.86" y="404.40" font-size="9" fill="#1e1e1e" stroke="#1e1e1e" stroke-width="0.2" font-weight="normal" text-anchor="middle" >21</text>
<line x1="212.71" y1="392.90" x2="212.71" y2="395.50" stroke="#777" stroke-width="1.1" opacity="1"/>
<text x="212.71" y="404.40" font-size="9" fill="#1e1e1e" stroke="#1e1e1e" stroke-width="0.2" font-weight="normal" text-anchor="middle" >28</text>
<text x="135.10" y="416.30" font-size="10.6" fill="#1e1e1e" stroke="#1e1e1e" stroke-width="0.2" font-weight="normal" text-anchor="middle" >Days of treatment</text>
<text x="48.30" y="427.50" font-size="8.6" fill="#1e1e1e" stroke="#1e1e1e" stroke-width="0.2" font-weight="normal" text-anchor="start" ><tspan font-style="italic">N</tspan> = 7/group</text>
<text transform="translate(11.7,325.6) rotate(-90)" font-size="8.8" fill="#1e1e1e" stroke="#1e1e1e" stroke-width="0.2" text-anchor="middle">Tumor volume [mm<tspan font-size="5.8" dy="-3.3">3</tspan><tspan dy="3.3">]</tspan></text>
<text transform="translate(22.5,324.5) rotate(-90)" font-size="8.7" fill="#1e1e1e" stroke="#1e1e1e" stroke-width="0.2" text-anchor="middle">Geomean ±SEM</text>
<line x1="53.80" y1="257.10" x2="64.00" y2="257.10" stroke="#111" stroke-width="1.4" opacity="1"/>
<circle cx="59.20" cy="257.10" r="1.5" fill="#111"/>
<text transform="translate(68.50,260.00) scale(0.946,1)" font-size="8.3" fill="#1e1e1e" stroke="#1e1e1e" stroke-width="0.2" font-weight="normal" text-anchor="start" >Vehicle</text>
<line x1="53.80" y1="266.20" x2="64.00" y2="266.20" stroke="#e3242f" stroke-width="1.4" opacity="1"/>
<circle cx="59.20" cy="266.20" r="1.5" fill="#e3242f"/>
<text transform="translate(68.50,269.10) scale(0.946,1)" font-size="8.3" fill="#1e1e1e" stroke="#1e1e1e" stroke-width="0.2" font-weight="normal" text-anchor="start" >Carboplatin 50 mg/kg QW</text>
<line x1="53.80" y1="274.40" x2="64.00" y2="274.40" stroke="#5c9ad6" stroke-width="1.4" opacity="1"/>
<circle cx="59.20" cy="274.40" r="1.5" fill="#5c9ad6"/>
<text transform="translate(68.50,277.30) scale(0.946,1)" font-size="8.3" fill="#1e1e1e" stroke="#1e1e1e" stroke-width="0.2" font-weight="normal" text-anchor="start" >AZD5305 1 mg/kg QD</text>
<line x1="53.80" y1="281.50" x2="64.00" y2="281.50" stroke="#b5363c" stroke-width="1.4" opacity="1"/>
<circle cx="59.20" cy="281.50" r="1.5" fill="#b5363c"/>
<text transform="translate(68.50,284.40) scale(0.946,1)" font-size="8.3" fill="#1e1e1e" stroke="#1e1e1e" stroke-width="0.2" font-weight="normal" text-anchor="start" >AZD5305 0.1 mg/kg QD</text>
<line x1="53.80" y1="289.80" x2="64.00" y2="289.80" stroke="#f3a3a3" stroke-width="1.4" opacity="1"/>
<circle cx="59.20" cy="289.80" r="1.5" fill="#f3a3a3"/>
<text transform="translate(68.50,292.70) scale(0.946,1)" font-size="8.3" fill="#1e1e1e" stroke="#1e1e1e" stroke-width="0.2" font-weight="normal" text-anchor="start" >AZD5305 0.01 mg/kg QD</text>
<line x1="53.80" y1="297.50" x2="64.00" y2="297.50" stroke="#2b4a9e" stroke-width="1.4" stroke-dasharray="3,2" opacity="1"/>
<circle cx="59.20" cy="297.50" r="1.5" fill="#2b4a9e"/>
<text transform="translate(68.50,300.40) scale(0.946,1)" font-size="8.3" fill="#1e1e1e" stroke="#1e1e1e" stroke-width="0.2" font-weight="normal" text-anchor="start" >Carbo+AZD5305 1 mg/kg</text>
<line x1="53.80" y1="305.10" x2="64.00" y2="305.10" stroke="#2a2a32" stroke-width="1.4" opacity="1"/>
<circle cx="59.20" cy="305.10" r="1.5" fill="#2a2a32"/>
<text transform="translate(68.50,308.00) scale(0.946,1)" font-size="8.3" fill="#1e1e1e" stroke="#1e1e1e" stroke-width="0.2" font-weight="normal" text-anchor="start" >Carbo+AZD5305 0.1 mg/kg</text>
<line x1="53.80" y1="312.60" x2="64.00" y2="312.60" stroke="#68b846" stroke-width="1.4" opacity="1"/>
<circle cx="59.20" cy="312.60" r="1.5" fill="#68b846"/>
<text transform="translate(68.50,315.50) scale(0.946,1)" font-size="8.3" fill="#1e1e1e" stroke="#1e1e1e" stroke-width="0.2" font-weight="normal" text-anchor="start" >Carbo+AZD5305 0.01 mg/kg</text>
<line x1="49.30" y1="370.48" x2="49.30" y2="374.38" stroke="#111" stroke-width="0.9" opacity="0.55"/>
<line x1="47.55" y1="370.48" x2="51.05" y2="370.48" stroke="#111" stroke-width="0.9" opacity="0.55"/>
<line x1="47.55" y1="374.38" x2="51.05" y2="374.38" stroke="#111" stroke-width="0.9" opacity="0.55"/>
<line x1="66.81" y1="363.08" x2="66.81" y2="368.92" stroke="#111" stroke-width="0.9" opacity="0.55"/>
<line x1="65.06" y1="363.08" x2="68.56" y2="363.08" stroke="#111" stroke-width="0.9" opacity="0.55"/>
<line x1="65.06" y1="368.92" x2="68.56" y2="368.92" stroke="#111" stroke-width="0.9" opacity="0.55"/>
<line x1="90.15" y1="355.67" x2="90.15" y2="365.41" stroke="#111" stroke-width="0.9" opacity="0.55"/>
<line x1="88.40" y1="355.67" x2="91.90" y2="355.67" stroke="#111" stroke-width="0.9" opacity="0.55"/>
<line x1="88.40" y1="365.41" x2="91.90" y2="365.41" stroke="#111" stroke-width="0.9" opacity="0.55"/>
<line x1="107.66" y1="347.09" x2="107.66" y2="358.79" stroke="#111" stroke-width="0.9" opacity="0.55"/>
<line x1="105.91" y1="347.09" x2="109.41" y2="347.09" stroke="#111" stroke-width="0.9" opacity="0.55"/>
<line x1="105.91" y1="358.79" x2="109.41" y2="358.79" stroke="#111" stroke-width="0.9" opacity="0.55"/>
<line x1="131.00" y1="332.28" x2="131.00" y2="343.98" stroke="#111" stroke-width="0.9" opacity="0.55"/>
<line x1="129.25" y1="332.28" x2="132.75" y2="332.28" stroke="#111" stroke-width="0.9" opacity="0.55"/>
<line x1="129.25" y1="343.98" x2="132.75" y2="343.98" stroke="#111" stroke-width="0.9" opacity="0.55"/>
<line x1="148.51" y1="325.65" x2="148.51" y2="341.25" stroke="#111" stroke-width="0.9" opacity="0.55"/>
<line x1="146.76" y1="325.65" x2="150.26" y2="325.65" stroke="#111" stroke-width="0.9" opacity="0.55"/>
<line x1="146.76" y1="341.25" x2="150.26" y2="341.25" stroke="#111" stroke-width="0.9" opacity="0.55"/>
<line x1="171.86" y1="308.11" x2="171.86" y2="325.65" stroke="#111" stroke-width="0.9" opacity="0.55"/>
<line x1="170.11" y1="308.11" x2="173.61" y2="308.11" stroke="#111" stroke-width="0.9" opacity="0.55"/>
<line x1="170.11" y1="325.65" x2="173.61" y2="325.65" stroke="#111" stroke-width="0.9" opacity="0.55"/>
<line x1="189.36" y1="297.59" x2="189.36" y2="317.08" stroke="#111" stroke-width="0.9" opacity="0.55"/>
<line x1="187.61" y1="297.59" x2="191.11" y2="297.59" stroke="#111" stroke-width="0.9" opacity="0.55"/>
<line x1="187.61" y1="317.08" x2="191.11" y2="317.08" stroke="#111" stroke-width="0.9" opacity="0.55"/>
<line x1="212.71" y1="261.53" x2="212.71" y2="288.82" stroke="#111" stroke-width="0.9" opacity="0.55"/>
<line x1="210.96" y1="261.53" x2="214.46" y2="261.53" stroke="#111" stroke-width="0.9" opacity="0.55"/>
<line x1="210.96" y1="288.82" x2="214.46" y2="288.82" stroke="#111" stroke-width="0.9" opacity="0.55"/>
<line x1="49.30" y1="371.85" x2="49.30" y2="375.74" stroke="#e3242f" stroke-width="0.9" opacity="0.55"/>
<line x1="47.55" y1="371.85" x2="51.05" y2="371.85" stroke="#e3242f" stroke-width="0.9" opacity="0.55"/>
<line x1="47.55" y1="375.74" x2="51.05" y2="375.74" stroke="#e3242f" stroke-width="0.9" opacity="0.55"/>
<line x1="66.81" y1="366.58" x2="66.81" y2="372.43" stroke="#e3242f" stroke-width="0.9" opacity="0.55"/>
<line x1="65.06" y1="366.58" x2="68.56" y2="366.58" stroke="#e3242f" stroke-width="0.9" opacity="0.55"/>
<line x1="65.06" y1="372.43" x2="68.56" y2="372.43" stroke="#e3242f" stroke-width="0.9" opacity="0.55"/>
<line x1="90.15" y1="360.93" x2="90.15" y2="368.73" stroke="#e3242f" stroke-width="0.9" opacity="0.55"/>
<line x1="88.40" y1="360.93" x2="91.90" y2="360.93" stroke="#e3242f" stroke-width="0.9" opacity="0.55"/>
<line x1="88.40" y1="368.73" x2="91.90" y2="368.73" stroke="#e3242f" stroke-width="0.9" opacity="0.55"/>
<line x1="107.66" y1="354.11" x2="107.66" y2="363.85" stroke="#e3242f" stroke-width="0.9" opacity="0.55"/>
<line x1="105.91" y1="354.11" x2="109.41" y2="354.11" stroke="#e3242f" stroke-width="0.9" opacity="0.55"/>
<line x1="105.91" y1="363.85" x2="109.41" y2="363.85" stroke="#e3242f" stroke-width="0.9" opacity="0.55"/>
<line x1="131.00" y1="349.63" x2="131.00" y2="363.27" stroke="#e3242f" stroke-width="0.9" opacity="0.55"/>
<line x1="129.25" y1="349.63" x2="132.75" y2="349.63" stroke="#e3242f" stroke-width="0.9" opacity="0.55"/>
<line x1="129.25" y1="363.27" x2="132.75" y2="363.27" stroke="#e3242f" stroke-width="0.9" opacity="0.55"/>
<line x1="148.51" y1="345.34" x2="148.51" y2="362.88" stroke="#e3242f" stroke-width="0.9" opacity="0.55"/>
<line x1="146.76" y1="345.34" x2="150.26" y2="345.34" stroke="#e3242f" stroke-width="0.9" opacity="0.55"/>
<line x1="146.76" y1="362.88" x2="150.26" y2="362.88" stroke="#e3242f" stroke-width="0.9" opacity="0.55"/>
<line x1="171.86" y1="339.30" x2="171.86" y2="358.79" stroke="#e3242f" stroke-width="0.9" opacity="0.55"/>
<line x1="170.11" y1="339.30" x2="173.61" y2="339.30" stroke="#e3242f" stroke-width="0.9" opacity="0.55"/>
<line x1="170.11" y1="358.79" x2="173.61" y2="358.79" stroke="#e3242f" stroke-width="0.9" opacity="0.55"/>
<line x1="189.36" y1="332.67" x2="189.36" y2="354.11" stroke="#e3242f" stroke-width="0.9" opacity="0.55"/>
<line x1="187.61" y1="332.67" x2="191.11" y2="332.67" stroke="#e3242f" stroke-width="0.9" opacity="0.55"/>
<line x1="187.61" y1="354.11" x2="191.11" y2="354.11" stroke="#e3242f" stroke-width="0.9" opacity="0.55"/>
<line x1="212.71" y1="333.26" x2="212.71" y2="356.64" stroke="#e3242f" stroke-width="0.9" opacity="0.55"/>
<line x1="210.96" y1="333.26" x2="214.46" y2="333.26" stroke="#e3242f" stroke-width="0.9" opacity="0.55"/>
<line x1="210.96" y1="356.64" x2="214.46" y2="356.64" stroke="#e3242f" stroke-width="0.9" opacity="0.55"/>
<line x1="49.30" y1="370.87" x2="49.30" y2="374.77" stroke="#5c9ad6" stroke-width="0.9" opacity="0.55"/>
<line x1="47.55" y1="370.87" x2="51.05" y2="370.87" stroke="#5c9ad6" stroke-width="0.9" opacity="0.55"/>
<line x1="47.55" y1="374.77" x2="51.05" y2="374.77" stroke="#5c9ad6" stroke-width="0.9" opacity="0.55"/>
<line x1="66.81" y1="360.54" x2="66.81" y2="366.39" stroke="#5c9ad6" stroke-width="0.9" opacity="0.55"/>
<line x1="65.06" y1="360.54" x2="68.56" y2="360.54" stroke="#5c9ad6" stroke-width="0.9" opacity="0.55"/>
<line x1="65.06" y1="366.39" x2="68.56" y2="366.39" stroke="#5c9ad6" stroke-width="0.9" opacity="0.55"/>
<line x1="90.15" y1="358.01" x2="90.15" y2="365.80" stroke="#5c9ad6" stroke-width="0.9" opacity="0.55"/>
<line x1="88.40" y1="358.01" x2="91.90" y2="358.01" stroke="#5c9ad6" stroke-width="0.9" opacity="0.55"/>
<line x1="88.40" y1="365.80" x2="91.90" y2="365.80" stroke="#5c9ad6" stroke-width="0.9" opacity="0.55"/>
<line x1="107.66" y1="343.78" x2="107.66" y2="355.47" stroke="#5c9ad6" stroke-width="0.9" opacity="0.55"/>
<line x1="105.91" y1="343.78" x2="109.41" y2="343.78" stroke="#5c9ad6" stroke-width="0.9" opacity="0.55"/>
<line x1="105.91" y1="355.47" x2="109.41" y2="355.47" stroke="#5c9ad6" stroke-width="0.9" opacity="0.55"/>
<line x1="131.00" y1="341.25" x2="131.00" y2="356.84" stroke="#5c9ad6" stroke-width="0.9" opacity="0.55"/>
<line x1="129.25" y1="341.25" x2="132.75" y2="341.25" stroke="#5c9ad6" stroke-width="0.9" opacity="0.55"/>
<line x1="129.25" y1="356.84" x2="132.75" y2="356.84" stroke="#5c9ad6" stroke-width="0.9" opacity="0.55"/>
<line x1="148.51" y1="339.88" x2="148.51" y2="359.37" stroke="#5c9ad6" stroke-width="0.9" opacity="0.55"/>
<line x1="146.76" y1="339.88" x2="150.26" y2="339.88" stroke="#5c9ad6" stroke-width="0.9" opacity="0.55"/>
<line x1="146.76" y1="359.37" x2="150.26" y2="359.37" stroke="#5c9ad6" stroke-width="0.9" opacity="0.55"/>
<line x1="171.86" y1="334.81" x2="171.86" y2="356.25" stroke="#5c9ad6" stroke-width="0.9" opacity="0.55"/>
<line x1="170.11" y1="334.81" x2="173.61" y2="334.81" stroke="#5c9ad6" stroke-width="0.9" opacity="0.55"/>
<line x1="170.11" y1="356.25" x2="173.61" y2="356.25" stroke="#5c9ad6" stroke-width="0.9" opacity="0.55"/>
<line x1="189.36" y1="328.97" x2="189.36" y2="352.36" stroke="#5c9ad6" stroke-width="0.9" opacity="0.55"/>
<line x1="187.61" y1="328.97" x2="191.11" y2="328.97" stroke="#5c9ad6" stroke-width="0.9" opacity="0.55"/>
<line x1="187.61" y1="352.36" x2="191.11" y2="352.36" stroke="#5c9ad6" stroke-width="0.9" opacity="0.55"/>
<line x1="212.71" y1="330.53" x2="212.71" y2="353.91" stroke="#5c9ad6" stroke-width="0.9" opacity="0.55"/>
<line x1="210.96" y1="330.53" x2="214.46" y2="330.53" stroke="#5c9ad6" stroke-width="0.9" opacity="0.55"/>
<line x1="210.96" y1="353.91" x2="214.46" y2="353.91" stroke="#5c9ad6" stroke-width="0.9" opacity="0.55"/>
<line x1="49.30" y1="371.26" x2="49.30" y2="375.16" stroke="#b5363c" stroke-width="0.9" opacity="0.55"/>
<line x1="47.55" y1="371.26" x2="51.05" y2="371.26" stroke="#b5363c" stroke-width="0.9" opacity="0.55"/>
<line x1="47.55" y1="375.16" x2="51.05" y2="375.16" stroke="#b5363c" stroke-width="0.9" opacity="0.55"/>
<line x1="66.81" y1="364.83" x2="66.81" y2="370.68" stroke="#b5363c" stroke-width="0.9" opacity="0.55"/>
<line x1="65.06" y1="364.83" x2="68.56" y2="364.83" stroke="#b5363c" stroke-width="0.9" opacity="0.55"/>
<line x1="65.06" y1="370.68" x2="68.56" y2="370.68" stroke="#b5363c" stroke-width="0.9" opacity="0.55"/>
<line x1="90.15" y1="359.57" x2="90.15" y2="367.36" stroke="#b5363c" stroke-width="0.9" opacity="0.55"/>
<line x1="88.40" y1="359.57" x2="91.90" y2="359.57" stroke="#b5363c" stroke-width="0.9" opacity="0.55"/>
<line x1="88.40" y1="367.36" x2="91.90" y2="367.36" stroke="#b5363c" stroke-width="0.9" opacity="0.55"/>
<line x1="107.66" y1="349.43" x2="107.66" y2="361.13" stroke="#b5363c" stroke-width="0.9" opacity="0.55"/>
<line x1="105.91" y1="349.43" x2="109.41" y2="349.43" stroke="#b5363c" stroke-width="0.9" opacity="0.55"/>
<line x1="105.91" y1="361.13" x2="109.41" y2="361.13" stroke="#b5363c" stroke-width="0.9" opacity="0.55"/>
<line x1="131.00" y1="345.34" x2="131.00" y2="360.93" stroke="#b5363c" stroke-width="0.9" opacity="0.55"/>
<line x1="129.25" y1="345.34" x2="132.75" y2="345.34" stroke="#b5363c" stroke-width="0.9" opacity="0.55"/>
<line x1="129.25" y1="360.93" x2="132.75" y2="360.93" stroke="#b5363c" stroke-width="0.9" opacity="0.55"/>
<line x1="148.51" y1="340.47" x2="148.51" y2="361.91" stroke="#b5363c" stroke-width="0.9" opacity="0.55"/>
<line x1="146.76" y1="340.47" x2="150.26" y2="340.47" stroke="#b5363c" stroke-width="0.9" opacity="0.55"/>
<line x1="146.76" y1="361.91" x2="150.26" y2="361.91" stroke="#b5363c" stroke-width="0.9" opacity="0.55"/>
<line x1="171.86" y1="333.45" x2="171.86" y2="356.84" stroke="#b5363c" stroke-width="0.9" opacity="0.55"/>
<line x1="170.11" y1="333.45" x2="173.61" y2="333.45" stroke="#b5363c" stroke-width="0.9" opacity="0.55"/>
<line x1="170.11" y1="356.84" x2="173.61" y2="356.84" stroke="#b5363c" stroke-width="0.9" opacity="0.55"/>
<line x1="189.36" y1="323.12" x2="189.36" y2="350.41" stroke="#b5363c" stroke-width="0.9" opacity="0.55"/>
<line x1="187.61" y1="323.12" x2="191.11" y2="323.12" stroke="#b5363c" stroke-width="0.9" opacity="0.55"/>
<line x1="187.61" y1="350.41" x2="191.11" y2="350.41" stroke="#b5363c" stroke-width="0.9" opacity="0.55"/>
<line x1="212.71" y1="307.72" x2="212.71" y2="342.81" stroke="#b5363c" stroke-width="0.9" opacity="0.55"/>
<line x1="210.96" y1="307.72" x2="214.46" y2="307.72" stroke="#b5363c" stroke-width="0.9" opacity="0.55"/>
<line x1="210.96" y1="342.81" x2="214.46" y2="342.81" stroke="#b5363c" stroke-width="0.9" opacity="0.55"/>
<line x1="49.30" y1="370.48" x2="49.30" y2="374.38" stroke="#f3a3a3" stroke-width="0.9" opacity="0.55"/>
<line x1="47.55" y1="370.48" x2="51.05" y2="370.48" stroke="#f3a3a3" stroke-width="0.9" opacity="0.55"/>
<line x1="47.55" y1="374.38" x2="51.05" y2="374.38" stroke="#f3a3a3" stroke-width="0.9" opacity="0.55"/>
<line x1="66.81" y1="358.40" x2="66.81" y2="364.24" stroke="#f3a3a3" stroke-width="0.9" opacity="0.55"/>
<line x1="65.06" y1="358.40" x2="68.56" y2="358.40" stroke="#f3a3a3" stroke-width="0.9" opacity="0.55"/>
<line x1="65.06" y1="364.24" x2="68.56" y2="364.24" stroke="#f3a3a3" stroke-width="0.9" opacity="0.55"/>
<line x1="90.15" y1="348.65" x2="90.15" y2="360.35" stroke="#f3a3a3" stroke-width="0.9" opacity="0.55"/>
<line x1="88.40" y1="348.65" x2="91.90" y2="348.65" stroke="#f3a3a3" stroke-width="0.9" opacity="0.55"/>
<line x1="88.40" y1="360.35" x2="91.90" y2="360.35" stroke="#f3a3a3" stroke-width="0.9" opacity="0.55"/>
<line x1="107.66" y1="341.25" x2="107.66" y2="356.84" stroke="#f3a3a3" stroke-width="0.9" opacity="0.55"/>
<line x1="105.91" y1="341.25" x2="109.41" y2="341.25" stroke="#f3a3a3" stroke-width="0.9" opacity="0.55"/>
<line x1="105.91" y1="356.84" x2="109.41" y2="356.84" stroke="#f3a3a3" stroke-width="0.9" opacity="0.55"/>
<line x1="131.00" y1="330.72" x2="131.00" y2="350.21" stroke="#f3a3a3" stroke-width="0.9" opacity="0.55"/>
<line x1="129.25" y1="330.72" x2="132.75" y2="330.72" stroke="#f3a3a3" stroke-width="0.9" opacity="0.55"/>
<line x1="129.25" y1="350.21" x2="132.75" y2="350.21" stroke="#f3a3a3" stroke-width="0.9" opacity="0.55"/>
<line x1="148.51" y1="316.88" x2="148.51" y2="344.17" stroke="#f3a3a3" stroke-width="0.9" opacity="0.55"/>
<line x1="146.76" y1="316.88" x2="150.26" y2="316.88" stroke="#f3a3a3" stroke-width="0.9" opacity="0.55"/>
<line x1="146.76" y1="344.17" x2="150.26" y2="344.17" stroke="#f3a3a3" stroke-width="0.9" opacity="0.55"/>
<line x1="171.86" y1="300.51" x2="171.86" y2="331.70" stroke="#f3a3a3" stroke-width="0.9" opacity="0.55"/>
<line x1="170.11" y1="300.51" x2="173.61" y2="300.51" stroke="#f3a3a3" stroke-width="0.9" opacity="0.55"/>
<line x1="170.11" y1="331.70" x2="173.61" y2="331.70" stroke="#f3a3a3" stroke-width="0.9" opacity="0.55"/>
<line x1="189.36" y1="285.50" x2="189.36" y2="322.54" stroke="#f3a3a3" stroke-width="0.9" opacity="0.55"/>
<line x1="187.61" y1="285.50" x2="191.11" y2="285.50" stroke="#f3a3a3" stroke-width="0.9" opacity="0.55"/>
<line x1="187.61" y1="322.54" x2="191.11" y2="322.54" stroke="#f3a3a3" stroke-width="0.9" opacity="0.55"/>
<line x1="212.71" y1="272.64" x2="212.71" y2="311.62" stroke="#f3a3a3" stroke-width="0.9" opacity="0.55"/>
<line x1="210.96" y1="272.64" x2="214.46" y2="272.64" stroke="#f3a3a3" stroke-width="0.9" opacity="0.55"/>
<line x1="210.96" y1="311.62" x2="214.46" y2="311.62" stroke="#f3a3a3" stroke-width="0.9" opacity="0.55"/>
<line x1="49.30" y1="370.87" x2="49.30" y2="374.77" stroke="#2b4a9e" stroke-width="0.9" opacity="0.55"/>
<line x1="47.55" y1="370.87" x2="51.05" y2="370.87" stroke="#2b4a9e" stroke-width="0.9" opacity="0.55"/>
<line x1="47.55" y1="374.77" x2="51.05" y2="374.77" stroke="#2b4a9e" stroke-width="0.9" opacity="0.55"/>
<line x1="66.81" y1="364.24" x2="66.81" y2="368.92" stroke="#2b4a9e" stroke-width="0.9" opacity="0.55"/>
<line x1="65.06" y1="364.24" x2="68.56" y2="364.24" stroke="#2b4a9e" stroke-width="0.9" opacity="0.55"/>
<line x1="65.06" y1="368.92" x2="68.56" y2="368.92" stroke="#2b4a9e" stroke-width="0.9" opacity="0.55"/>
<line x1="90.15" y1="360.54" x2="90.15" y2="367.56" stroke="#2b4a9e" stroke-width="0.9" opacity="0.55"/>
<line x1="88.40" y1="360.54" x2="91.90" y2="360.54" stroke="#2b4a9e" stroke-width="0.9" opacity="0.55"/>
<line x1="88.40" y1="367.56" x2="91.90" y2="367.56" stroke="#2b4a9e" stroke-width="0.9" opacity="0.55"/>
<line x1="107.66" y1="362.30" x2="107.66" y2="372.04" stroke="#2b4a9e" stroke-width="0.9" opacity="0.55"/>
<line x1="105.91" y1="362.30" x2="109.41" y2="362.30" stroke="#2b4a9e" stroke-width="0.9" opacity="0.55"/>
<line x1="105.91" y1="372.04" x2="109.41" y2="372.04" stroke="#2b4a9e" stroke-width="0.9" opacity="0.55"/>
<line x1="131.00" y1="375.55" x2="131.00" y2="383.34" stroke="#2b4a9e" stroke-width="0.9" opacity="0.55"/>
<line x1="129.25" y1="375.55" x2="132.75" y2="375.55" stroke="#2b4a9e" stroke-width="0.9" opacity="0.55"/>
<line x1="129.25" y1="383.34" x2="132.75" y2="383.34" stroke="#2b4a9e" stroke-width="0.9" opacity="0.55"/>
<line x1="148.51" y1="386.27" x2="148.51" y2="389.39" stroke="#2b4a9e" stroke-width="0.9" opacity="0.55"/>
<line x1="146.76" y1="386.27" x2="150.26" y2="386.27" stroke="#2b4a9e" stroke-width="0.9" opacity="0.55"/>
<line x1="146.76" y1="389.39" x2="150.26" y2="389.39" stroke="#2b4a9e" stroke-width="0.9" opacity="0.55"/>
<line x1="171.86" y1="388.22" x2="171.86" y2="390.56" stroke="#2b4a9e" stroke-width="0.9" opacity="0.55"/>
<line x1="170.11" y1="388.22" x2="173.61" y2="388.22" stroke="#2b4a9e" stroke-width="0.9" opacity="0.55"/>
<line x1="170.11" y1="390.56" x2="173.61" y2="390.56" stroke="#2b4a9e" stroke-width="0.9" opacity="0.55"/>
<line x1="189.36" y1="388.80" x2="189.36" y2="390.75" stroke="#2b4a9e" stroke-width="0.9" opacity="0.55"/>
<line x1="187.61" y1="388.80" x2="191.11" y2="388.80" stroke="#2b4a9e" stroke-width="0.9" opacity="0.55"/>
<line x1="187.61" y1="390.75" x2="191.11" y2="390.75" stroke="#2b4a9e" stroke-width="0.9" opacity="0.55"/>
<line x1="212.71" y1="389.19" x2="212.71" y2="391.14" stroke="#2b4a9e" stroke-width="0.9" opacity="0.55"/>
<line x1="210.96" y1="389.19" x2="214.46" y2="389.19" stroke="#2b4a9e" stroke-width="0.9" opacity="0.55"/>
<line x1="210.96" y1="391.14" x2="214.46" y2="391.14" stroke="#2b4a9e" stroke-width="0.9" opacity="0.55"/>
<line x1="49.30" y1="370.48" x2="49.30" y2="374.38" stroke="#2a2a32" stroke-width="0.9" opacity="0.55"/>
<line x1="47.55" y1="370.48" x2="51.05" y2="370.48" stroke="#2a2a32" stroke-width="0.9" opacity="0.55"/>
<line x1="47.55" y1="374.38" x2="51.05" y2="374.38" stroke="#2a2a32" stroke-width="0.9" opacity="0.55"/>
<line x1="66.81" y1="364.05" x2="66.81" y2="368.73" stroke="#2a2a32" stroke-width="0.9" opacity="0.55"/>
<line x1="65.06" y1="364.05" x2="68.56" y2="364.05" stroke="#2a2a32" stroke-width="0.9" opacity="0.55"/>
<line x1="65.06" y1="368.73" x2="68.56" y2="368.73" stroke="#2a2a32" stroke-width="0.9" opacity="0.55"/>
<line x1="90.15" y1="361.91" x2="90.15" y2="368.92" stroke="#2a2a32" stroke-width="0.9" opacity="0.55"/>
<line x1="88.40" y1="361.91" x2="91.90" y2="361.91" stroke="#2a2a32" stroke-width="0.9" opacity="0.55"/>
<line x1="88.40" y1="368.92" x2="91.90" y2="368.92" stroke="#2a2a32" stroke-width="0.9" opacity="0.55"/>
<line x1="107.66" y1="366.19" x2="107.66" y2="377.89" stroke="#2a2a32" stroke-width="0.9" opacity="0.55"/>
<line x1="105.91" y1="366.19" x2="109.41" y2="366.19" stroke="#2a2a32" stroke-width="0.9" opacity="0.55"/>
<line x1="105.91" y1="377.89" x2="109.41" y2="377.89" stroke="#2a2a32" stroke-width="0.9" opacity="0.55"/>
<line x1="131.00" y1="376.33" x2="131.00" y2="386.07" stroke="#2a2a32" stroke-width="0.9" opacity="0.55"/>
<line x1="129.25" y1="376.33" x2="132.75" y2="376.33" stroke="#2a2a32" stroke-width="0.9" opacity="0.55"/>
<line x1="129.25" y1="386.07" x2="132.75" y2="386.07" stroke="#2a2a32" stroke-width="0.9" opacity="0.55"/>
<line x1="148.51" y1="386.27" x2="148.51" y2="389.39" stroke="#2a2a32" stroke-width="0.9" opacity="0.55"/>
<line x1="146.76" y1="386.27" x2="150.26" y2="386.27" stroke="#2a2a32" stroke-width="0.9" opacity="0.55"/>
<line x1="146.76" y1="389.39" x2="150.26" y2="389.39" stroke="#2a2a32" stroke-width="0.9" opacity="0.55"/>
<line x1="171.86" y1="388.22" x2="171.86" y2="390.56" stroke="#2a2a32" stroke-width="0.9" opacity="0.55"/>
<line x1="170.11" y1="388.22" x2="173.61" y2="388.22" stroke="#2a2a32" stroke-width="0.9" opacity="0.55"/>
<line x1="170.11" y1="390.56" x2="173.61" y2="390.56" stroke="#2a2a32" stroke-width="0.9" opacity="0.55"/>
<line x1="189.36" y1="388.80" x2="189.36" y2="390.75" stroke="#2a2a32" stroke-width="0.9" opacity="0.55"/>
<line x1="187.61" y1="388.80" x2="191.11" y2="388.80" stroke="#2a2a32" stroke-width="0.9" opacity="0.55"/>
<line x1="187.61" y1="390.75" x2="191.11" y2="390.75" stroke="#2a2a32" stroke-width="0.9" opacity="0.55"/>
<line x1="212.71" y1="389.00" x2="212.71" y2="390.95" stroke="#2a2a32" stroke-width="0.9" opacity="0.55"/>
<line x1="210.96" y1="389.00" x2="214.46" y2="389.00" stroke="#2a2a32" stroke-width="0.9" opacity="0.55"/>
<line x1="210.96" y1="390.95" x2="214.46" y2="390.95" stroke="#2a2a32" stroke-width="0.9" opacity="0.55"/>
<line x1="49.30" y1="370.87" x2="49.30" y2="374.77" stroke="#68b846" stroke-width="0.9" opacity="0.55"/>
<line x1="47.55" y1="370.87" x2="51.05" y2="370.87" stroke="#68b846" stroke-width="0.9" opacity="0.55"/>
<line x1="47.55" y1="374.77" x2="51.05" y2="374.77" stroke="#68b846" stroke-width="0.9" opacity="0.55"/>
<line x1="66.81" y1="362.10" x2="66.81" y2="367.95" stroke="#68b846" stroke-width="0.9" opacity="0.55"/>
<line x1="65.06" y1="362.10" x2="68.56" y2="362.10" stroke="#68b846" stroke-width="0.9" opacity="0.55"/>
<line x1="65.06" y1="367.95" x2="68.56" y2="367.95" stroke="#68b846" stroke-width="0.9" opacity="0.55"/>
<line x1="90.15" y1="357.62" x2="90.15" y2="367.36" stroke="#68b846" stroke-width="0.9" opacity="0.55"/>
<line x1="88.40" y1="357.62" x2="91.90" y2="357.62" stroke="#68b846" stroke-width="0.9" opacity="0.55"/>
<line x1="88.40" y1="367.36" x2="91.90" y2="367.36" stroke="#68b846" stroke-width="0.9" opacity="0.55"/>
<line x1="107.66" y1="355.67" x2="107.66" y2="367.36" stroke="#68b846" stroke-width="0.9" opacity="0.55"/>
<line x1="105.91" y1="355.67" x2="109.41" y2="355.67" stroke="#68b846" stroke-width="0.9" opacity="0.55"/>
<line x1="105.91" y1="367.36" x2="109.41" y2="367.36" stroke="#68b846" stroke-width="0.9" opacity="0.55"/>
<line x1="131.00" y1="359.76" x2="131.00" y2="373.40" stroke="#68b846" stroke-width="0.9" opacity="0.55"/>
<line x1="129.25" y1="359.76" x2="132.75" y2="359.76" stroke="#68b846" stroke-width="0.9" opacity="0.55"/>
<line x1="129.25" y1="373.40" x2="132.75" y2="373.40" stroke="#68b846" stroke-width="0.9" opacity="0.55"/>
<line x1="148.51" y1="363.08" x2="148.51" y2="378.67" stroke="#68b846" stroke-width="0.9" opacity="0.55"/>
<line x1="146.76" y1="363.08" x2="150.26" y2="363.08" stroke="#68b846" stroke-width="0.9" opacity="0.55"/>
<line x1="146.76" y1="378.67" x2="150.26" y2="378.67" stroke="#68b846" stroke-width="0.9" opacity="0.55"/>
<line x1="171.86" y1="366.19" x2="171.86" y2="381.79" stroke="#68b846" stroke-width="0.9" opacity="0.55"/>
<line x1="170.11" y1="366.19" x2="173.61" y2="366.19" stroke="#68b846" stroke-width="0.9" opacity="0.55"/>
<line x1="170.11" y1="381.79" x2="173.61" y2="381.79" stroke="#68b846" stroke-width="0.9" opacity="0.55"/>
<line x1="189.36" y1="370.09" x2="189.36" y2="393.48" stroke="#68b846" stroke-width="0.9" opacity="0.55"/>
<line x1="187.61" y1="370.09" x2="191.11" y2="370.09" stroke="#68b846" stroke-width="0.9" opacity="0.55"/>
<line x1="187.61" y1="393.48" x2="191.11" y2="393.48" stroke="#68b846" stroke-width="0.9" opacity="0.55"/>
<line x1="212.71" y1="371.26" x2="212.71" y2="394.65" stroke="#68b846" stroke-width="0.9" opacity="0.55"/>
<line x1="210.96" y1="371.26" x2="214.46" y2="371.26" stroke="#68b846" stroke-width="0.9" opacity="0.55"/>
<line x1="210.96" y1="394.65" x2="214.46" y2="394.65" stroke="#68b846" stroke-width="0.9" opacity="0.55"/>
<polyline points="49.30,372.82 66.81,365.02 90.15,362.49 107.66,361.52 131.00,366.58 148.51,370.87 171.86,373.99 189.36,381.79 212.71,382.95" fill="none" stroke="#68b846" stroke-width="1.4" stroke-linejoin="round" opacity="1"/>
<polyline points="49.30,372.43 66.81,366.39 90.15,365.41 107.66,372.04 131.00,381.20 148.51,387.83 171.86,389.39 189.36,389.78 212.71,389.97" fill="none" stroke="#2a2a32" stroke-width="1.6" stroke-linejoin="round" opacity="1"/>
<polyline points="49.30,372.82 66.81,366.58 90.15,364.05 107.66,367.17 131.00,379.45 148.51,387.83 171.86,389.39 189.36,389.78 212.71,390.17" fill="none" stroke="#2b4a9e" stroke-width="1.6" stroke-linejoin="round" stroke-dasharray="3,2" opacity="1"/>
<polyline points="49.30,372.43 66.81,361.32 90.15,354.50 107.66,349.04 131.00,340.47 148.51,330.53 171.86,316.10 189.36,304.02 212.71,292.13" fill="none" stroke="#f3a3a3" stroke-width="1.0" stroke-linejoin="round" opacity="1"/>
<polyline points="49.30,373.21 66.81,367.75 90.15,363.46 107.66,355.28 131.00,353.14 148.51,351.19 171.86,345.14 189.36,336.76 212.71,325.26" fill="none" stroke="#b5363c" stroke-width="1.6" stroke-linejoin="round" opacity="1"/>
<polyline points="49.30,372.82 66.81,363.46 90.15,361.91 107.66,349.63 131.00,349.04 148.51,349.63 171.86,345.53 189.36,340.66 212.71,342.22" fill="none" stroke="#5c9ad6" stroke-width="1.5" stroke-linejoin="round" opacity="1"/>
<polyline points="49.30,373.79 66.81,369.51 90.15,364.83 107.66,358.98 131.00,356.45 148.51,354.11 171.86,349.04 189.36,343.39 212.71,344.95" fill="none" stroke="#e3242f" stroke-width="1.5" stroke-linejoin="round" opacity="1"/>
<polyline points="49.30,372.43 66.81,366.00 90.15,360.54 107.66,352.94 131.00,338.13 148.51,333.45 171.86,316.88 189.36,307.33 212.71,275.18" fill="none" stroke="#111" stroke-width="1.6" stroke-linejoin="round" opacity="1"/>
<circle cx="49.30" cy="372.82" r="1.4" fill="#68b846"/>
<circle cx="66.81" cy="365.02" r="1.4" fill="#68b846"/>
<circle cx="90.15" cy="362.49" r="1.4" fill="#68b846"/>
<circle cx="107.66" cy="361.52" r="1.4" fill="#68b846"/>
<circle cx="131.00" cy="366.58" r="1.4" fill="#68b846"/>
<circle cx="148.51" cy="370.87" r="1.4" fill="#68b846"/>
<circle cx="171.86" cy="373.99" r="1.4" fill="#68b846"/>
<circle cx="189.36" cy="381.79" r="1.4" fill="#68b846"/>
<circle cx="212.71" cy="382.95" r="1.4" fill="#68b846"/>
<circle cx="49.30" cy="372.43" r="1.4" fill="#2a2a32"/>
<circle cx="66.81" cy="366.39" r="1.4" fill="#2a2a32"/>
<circle cx="90.15" cy="365.41" r="1.4" fill="#2a2a32"/>
<circle cx="107.66" cy="372.04" r="1.4" fill="#2a2a32"/>
<circle cx="131.00" cy="381.20" r="1.4" fill="#2a2a32"/>
<circle cx="148.51" cy="387.83" r="1.4" fill="#2a2a32"/>
<circle cx="171.86" cy="389.39" r="1.4" fill="#2a2a32"/>
<circle cx="189.36" cy="389.78" r="1.4" fill="#2a2a32"/>
<circle cx="212.71" cy="389.97" r="1.4" fill="#2a2a32"/>
<circle cx="49.30" cy="372.82" r="1.4" fill="#2b4a9e"/>
<circle cx="66.81" cy="366.58" r="1.4" fill="#2b4a9e"/>
<circle cx="90.15" cy="364.05" r="1.4" fill="#2b4a9e"/>
<circle cx="107.66" cy="367.17" r="1.4" fill="#2b4a9e"/>
<circle cx="131.00" cy="379.45" r="1.4" fill="#2b4a9e"/>
<circle cx="148.51" cy="387.83" r="1.4" fill="#2b4a9e"/>
<circle cx="171.86" cy="389.39" r="1.4" fill="#2b4a9e"/>
<circle cx="189.36" cy="389.78" r="1.4" fill="#2b4a9e"/>
<circle cx="212.71" cy="390.17" r="1.4" fill="#2b4a9e"/>
<circle cx="49.30" cy="372.43" r="1.4" fill="#f3a3a3"/>
<circle cx="66.81" cy="361.32" r="1.4" fill="#f3a3a3"/>
<circle cx="90.15" cy="354.50" r="1.4" fill="#f3a3a3"/>
<circle cx="107.66" cy="349.04" r="1.4" fill="#f3a3a3"/>
<circle cx="131.00" cy="340.47" r="1.4" fill="#f3a3a3"/>
<circle cx="148.51" cy="330.53" r="1.4" fill="#f3a3a3"/>
<circle cx="171.86" cy="316.10" r="1.4" fill="#f3a3a3"/>
<circle cx="189.36" cy="304.02" r="1.4" fill="#f3a3a3"/>
<circle cx="212.71" cy="292.13" r="1.4" fill="#f3a3a3"/>
<circle cx="49.30" cy="373.21" r="1.4" fill="#b5363c"/>
<circle cx="66.81" cy="367.75" r="1.4" fill="#b5363c"/>
<circle cx="90.15" cy="363.46" r="1.4" fill="#b5363c"/>
<circle cx="107.66" cy="355.28" r="1.4" fill="#b5363c"/>
<circle cx="131.00" cy="353.14" r="1.4" fill="#b5363c"/>
<circle cx="148.51" cy="351.19" r="1.4" fill="#b5363c"/>
<circle cx="171.86" cy="345.14" r="1.4" fill="#b5363c"/>
<circle cx="189.36" cy="336.76" r="1.4" fill="#b5363c"/>
<circle cx="212.71" cy="325.26" r="1.4" fill="#b5363c"/>
<circle cx="49.30" cy="372.82" r="1.4" fill="#5c9ad6"/>
<circle cx="66.81" cy="363.46" r="1.4" fill="#5c9ad6"/>
<circle cx="90.15" cy="361.91" r="1.4" fill="#5c9ad6"/>
<circle cx="107.66" cy="349.63" r="1.4" fill="#5c9ad6"/>
<circle cx="131.00" cy="349.04" r="1.4" fill="#5c9ad6"/>
<circle cx="148.51" cy="349.63" r="1.4" fill="#5c9ad6"/>
<circle cx="171.86" cy="345.53" r="1.4" fill="#5c9ad6"/>
<circle cx="189.36" cy="340.66" r="1.4" fill="#5c9ad6"/>
<circle cx="212.71" cy="342.22" r="1.4" fill="#5c9ad6"/>
<circle cx="49.30" cy="373.79" r="1.4" fill="#e3242f"/>
<circle cx="66.81" cy="369.51" r="1.4" fill="#e3242f"/>
<circle cx="90.15" cy="364.83" r="1.4" fill="#e3242f"/>
<circle cx="107.66" cy="358.98" r="1.4" fill="#e3242f"/>
<circle cx="131.00" cy="356.45" r="1.4" fill="#e3242f"/>
<circle cx="148.51" cy="354.11" r="1.4" fill="#e3242f"/>
<circle cx="171.86" cy="349.04" r="1.4" fill="#e3242f"/>
<circle cx="189.36" cy="343.39" r="1.4" fill="#e3242f"/>
<circle cx="212.71" cy="344.95" r="1.4" fill="#e3242f"/>
<circle cx="49.30" cy="372.43" r="1.9" fill="#111"/>
<circle cx="66.81" cy="366.00" r="1.9" fill="#111"/>
<circle cx="90.15" cy="360.54" r="1.9" fill="#111"/>
<circle cx="107.66" cy="352.94" r="1.9" fill="#111"/>
<circle cx="131.00" cy="338.13" r="1.9" fill="#111"/>
<circle cx="148.51" cy="333.45" r="1.9" fill="#111"/>
<circle cx="171.86" cy="316.88" r="1.9" fill="#111"/>
<circle cx="189.36" cy="307.33" r="1.9" fill="#111"/>
<circle cx="212.71" cy="275.18" r="1.9" fill="#111"/>
<text transform="translate(217.40,293.60) scale(1.07,1)" font-size="6.6" fill="#f29a9a" stroke="#f29a9a" stroke-width="0.2" font-weight="bold" text-anchor="start" >7% TGI ns</text>
<text transform="translate(217.40,326.70) scale(1.09,1)" font-size="6.6" fill="#a3262c" stroke="#a3262c" stroke-width="0.2" font-weight="bold" text-anchor="start" >44% TGI **</text>
<text transform="translate(217.40,343.10) scale(1.09,1)" font-size="6.6" fill="#5c9ad6" stroke="#5c9ad6" stroke-width="0.2" font-weight="bold" text-anchor="start" >66% TGI **</text>
<text transform="translate(217.40,349.10) scale(1.09,1)" font-size="6.6" fill="#e3242f" stroke="#e3242f" stroke-width="0.2" font-weight="bold" text-anchor="start" >68% TGI *</text>
<text transform="translate(218.20,384.00) scale(1.05,1)" font-size="6.6" fill="#68b846" stroke="#68b846" stroke-width="0.2" font-weight="bold" text-anchor="start" >19% reg **</text>
<text transform="translate(218.20,392.20) scale(1.05,1)" font-size="6.6" fill="#1e1e1e" stroke="#1e1e1e" stroke-width="0.2" font-weight="bold" text-anchor="start" >86% reg ***</text>
<text transform="translate(218.20,394.80) scale(1.05,1)" font-size="6.6" fill="#3e5bb0" stroke="#3e5bb0" stroke-width="0.2" font-weight="bold" text-anchor="start" >90% reg ***</text>
<text x="259.90" y="230.30" font-size="16" fill="#1e1e1e" stroke="#1e1e1e" stroke-width="0.2" font-weight="bold" text-anchor="start" >D</text>
<text x="388.80" y="243.20" font-size="9.6" fill="#1e1e1e" stroke="#1e1e1e" stroke-width="0.2" font-weight="bold" text-anchor="middle" >SUM149PT</text>
<line x1="308.30" y1="257.30" x2="308.30" y2="393.40" stroke="#777" stroke-width="1.2" opacity="1"/>
<line x1="305.80" y1="393.20" x2="308.30" y2="393.20" stroke="#777" stroke-width="1.1" opacity="1"/>
<text transform="translate(304.50,396.30) scale(1.0,1)" font-size="8.6" fill="#1e1e1e" stroke="#1e1e1e" stroke-width="0.2" font-weight="normal" text-anchor="end" >0.00</text>
<line x1="305.80" y1="376.26" x2="308.30" y2="376.26" stroke="#777" stroke-width="1.1" opacity="1"/>
<text transform="translate(304.50,379.36) scale(1.0,1)" font-size="8.6" fill="#1e1e1e" stroke="#1e1e1e" stroke-width="0.2" font-weight="normal" text-anchor="end" >0.25</text>
<line x1="305.80" y1="359.32" x2="308.30" y2="359.32" stroke="#777" stroke-width="1.1" opacity="1"/>
<text transform="translate(304.50,362.43) scale(1.0,1)" font-size="8.6" fill="#1e1e1e" stroke="#1e1e1e" stroke-width="0.2" font-weight="normal" text-anchor="end" >0.50</text>
<line x1="305.80" y1="342.39" x2="308.30" y2="342.39" stroke="#777" stroke-width="1.1" opacity="1"/>
<text transform="translate(304.50,345.49) scale(1.0,1)" font-size="8.6" fill="#1e1e1e" stroke="#1e1e1e" stroke-width="0.2" font-weight="normal" text-anchor="end" >0.75</text>
<line x1="305.80" y1="325.45" x2="308.30" y2="325.45" stroke="#777" stroke-width="1.1" opacity="1"/>
<text transform="translate(304.50,328.55) scale(1.0,1)" font-size="8.6" fill="#1e1e1e" stroke="#1e1e1e" stroke-width="0.2" font-weight="normal" text-anchor="end" >1.00</text>
<line x1="305.80" y1="308.51" x2="308.30" y2="308.51" stroke="#777" stroke-width="1.1" opacity="1"/>
<text transform="translate(304.50,311.61) scale(1.0,1)" font-size="8.6" fill="#1e1e1e" stroke="#1e1e1e" stroke-width="0.2" font-weight="normal" text-anchor="end" >1.25</text>
<line x1="305.80" y1="291.57" x2="308.30" y2="291.57" stroke="#777" stroke-width="1.1" opacity="1"/>
<text transform="translate(304.50,294.68) scale(1.0,1)" font-size="8.6" fill="#1e1e1e" stroke="#1e1e1e" stroke-width="0.2" font-weight="normal" text-anchor="end" >1.50</text>
<line x1="305.80" y1="274.64" x2="308.30" y2="274.64" stroke="#777" stroke-width="1.1" opacity="1"/>
<text transform="translate(304.50,277.74) scale(1.0,1)" font-size="8.6" fill="#1e1e1e" stroke="#1e1e1e" stroke-width="0.2" font-weight="normal" text-anchor="end" >1.75</text>
<line x1="305.80" y1="257.70" x2="308.30" y2="257.70" stroke="#777" stroke-width="1.1" opacity="1"/>
<text transform="translate(304.50,260.80) scale(1.0,1)" font-size="8.6" fill="#1e1e1e" stroke="#1e1e1e" stroke-width="0.2" font-weight="normal" text-anchor="end" >2.00</text>
<line x1="308.30" y1="393.30" x2="471.50" y2="393.30" stroke="#777" stroke-width="1.3" opacity="1"/>
<line x1="308.30" y1="393.30" x2="308.30" y2="396.00" stroke="#777" stroke-width="1.1" opacity="1"/>
<text x="308.30" y="404.60" font-size="9" fill="#1e1e1e" stroke="#1e1e1e" stroke-width="0.2" font-weight="normal" text-anchor="middle" >0</text>
<line x1="349.04" y1="393.30" x2="349.04" y2="396.00" stroke="#777" stroke-width="1.1" opacity="1"/>
<text x="349.04" y="404.60" font-size="9" fill="#1e1e1e" stroke="#1e1e1e" stroke-width="0.2" font-weight="normal" text-anchor="middle" >7</text>
<line x1="389.78" y1="393.30" x2="389.78" y2="396.00" stroke="#777" stroke-width="1.1" opacity="1"/>
<text x="389.78" y="404.60" font-size="9" fill="#1e1e1e" stroke="#1e1e1e" stroke-width="0.2" font-weight="normal" text-anchor="middle" >14</text>
<line x1="430.52" y1="393.30" x2="430.52" y2="396.00" stroke="#777" stroke-width="1.1" opacity="1"/>
<text x="430.52" y="404.60" font-size="9" fill="#1e1e1e" stroke="#1e1e1e" stroke-width="0.2" font-weight="normal" text-anchor="middle" >21</text>
<line x1="471.26" y1="393.30" x2="471.26" y2="396.00" stroke="#777" stroke-width="1.1" opacity="1"/>
<text x="471.26" y="404.60" font-size="9" fill="#1e1e1e" stroke="#1e1e1e" stroke-width="0.2" font-weight="normal" text-anchor="middle" >28</text>
<text x="391.00" y="416.60" font-size="10.7" fill="#1e1e1e" stroke="#1e1e1e" stroke-width="0.2" font-weight="normal" text-anchor="middle" >Days of treatment</text>
<text x="304.80" y="429.50" font-size="8.5" fill="#1e1e1e" stroke="#1e1e1e" stroke-width="0.2" font-weight="normal" text-anchor="start" ><tspan font-style="italic">N</tspan> = 6-9/group</text>
<text transform="translate(268.6,327) rotate(-90)" font-size="8.7" fill="#1e1e1e" stroke="#1e1e1e" stroke-width="0.2" text-anchor="middle">Tumor volume [cm<tspan font-size="5.8" dy="-3.3">3</tspan><tspan dy="3.3">]</tspan></text>
<text transform="translate(279.6,326.5) rotate(-90)" font-size="8.3" fill="#1e1e1e" stroke="#1e1e1e" stroke-width="0.2" text-anchor="middle">Geomean ±SEM</text>
<line x1="316.30" y1="260.60" x2="326.90" y2="260.60" stroke="#111" stroke-width="1.4" opacity="1"/>
<text transform="translate(331.20,263.50) scale(0.946,1)" font-size="8.3" fill="#1e1e1e" stroke="#1e1e1e" stroke-width="0.2" font-weight="normal" text-anchor="start" >Vehicle</text>
<line x1="316.30" y1="269.40" x2="326.90" y2="269.40" stroke="#e8323e" stroke-width="1.4" opacity="1"/>
<text transform="translate(331.20,272.30) scale(0.946,1)" font-size="8.3" fill="#1e1e1e" stroke="#1e1e1e" stroke-width="0.2" font-weight="normal" text-anchor="start" >Carboplatin 37.5 mg/kg QW</text>
<line x1="316.30" y1="278.20" x2="326.90" y2="278.20" stroke="#4a66b4" stroke-width="1.4" opacity="1"/>
<text transform="translate(331.20,281.10) scale(0.946,1)" font-size="8.3" fill="#1e1e1e" stroke="#1e1e1e" stroke-width="0.2" font-weight="normal" text-anchor="start" >AZD5305 1 mg/kg QD</text>
<line x1="316.30" y1="287.00" x2="326.90" y2="287.00" stroke="#2d47a0" stroke-width="1.4" stroke-dasharray="3,2" opacity="1"/>
<text transform="translate(331.20,289.90) scale(0.946,1)" font-size="8.3" fill="#1e1e1e" stroke="#1e1e1e" stroke-width="0.2" font-weight="normal" text-anchor="start" >AZD5305 0.1 mg/kg QD</text>
<line x1="316.30" y1="295.80" x2="326.90" y2="295.80" stroke="#9b3ea0" stroke-width="1.4" opacity="1"/>
<text transform="translate(331.20,298.70) scale(0.946,1)" font-size="8.3" fill="#1e1e1e" stroke="#1e1e1e" stroke-width="0.2" font-weight="normal" text-anchor="start" >Carbo+AZD5305 1 mg/kg</text>
<line x1="316.30" y1="304.60" x2="326.90" y2="304.60" stroke="#c04aa0" stroke-width="1.4" stroke-dasharray="3,2" opacity="1"/>
<text transform="translate(331.20,307.50) scale(0.946,1)" font-size="8.3" fill="#1e1e1e" stroke="#1e1e1e" stroke-width="0.2" font-weight="normal" text-anchor="start" >Carbo+AZD5305 0.1 mg/kg</text>
<line x1="308.30" y1="370.16" x2="308.30" y2="375.58" stroke="#111" stroke-width="0.9" opacity="0.6"/>
<line x1="307.05" y1="370.16" x2="309.55" y2="370.16" stroke="#111" stroke-width="0.9" opacity="0.6"/>
<line x1="307.05" y1="375.58" x2="309.55" y2="375.58" stroke="#111" stroke-width="0.9" opacity="0.6"/>
<line x1="325.76" y1="365.42" x2="325.76" y2="370.84" stroke="#111" stroke-width="0.9" opacity="0.6"/>
<line x1="324.51" y1="365.42" x2="327.01" y2="365.42" stroke="#111" stroke-width="0.9" opacity="0.6"/>
<line x1="324.51" y1="370.84" x2="327.01" y2="370.84" stroke="#111" stroke-width="0.9" opacity="0.6"/>
<line x1="349.04" y1="352.75" x2="349.04" y2="360.88" stroke="#111" stroke-width="0.9" opacity="0.6"/>
<line x1="347.79" y1="352.75" x2="350.29" y2="352.75" stroke="#111" stroke-width="0.9" opacity="0.6"/>
<line x1="347.79" y1="360.88" x2="350.29" y2="360.88" stroke="#111" stroke-width="0.9" opacity="0.6"/>
<line x1="366.50" y1="352.01" x2="366.50" y2="358.78" stroke="#111" stroke-width="0.9" opacity="0.6"/>
<line x1="365.25" y1="352.01" x2="367.75" y2="352.01" stroke="#111" stroke-width="0.9" opacity="0.6"/>
<line x1="365.25" y1="358.78" x2="367.75" y2="358.78" stroke="#111" stroke-width="0.9" opacity="0.6"/>
<line x1="389.78" y1="342.73" x2="389.78" y2="350.86" stroke="#111" stroke-width="0.9" opacity="0.6"/>
<line x1="388.53" y1="342.73" x2="391.03" y2="342.73" stroke="#111" stroke-width="0.9" opacity="0.6"/>
<line x1="388.53" y1="350.86" x2="391.03" y2="350.86" stroke="#111" stroke-width="0.9" opacity="0.6"/>
<line x1="407.24" y1="331.55" x2="407.24" y2="342.39" stroke="#111" stroke-width="0.9" opacity="0.6"/>
<line x1="405.99" y1="331.55" x2="408.49" y2="331.55" stroke="#111" stroke-width="0.9" opacity="0.6"/>
<line x1="405.99" y1="342.39" x2="408.49" y2="342.39" stroke="#111" stroke-width="0.9" opacity="0.6"/>
<line x1="430.52" y1="313.59" x2="430.52" y2="327.82" stroke="#111" stroke-width="0.9" opacity="0.6"/>
<line x1="429.27" y1="313.59" x2="431.77" y2="313.59" stroke="#111" stroke-width="0.9" opacity="0.6"/>
<line x1="429.27" y1="327.82" x2="431.77" y2="327.82" stroke="#111" stroke-width="0.9" opacity="0.6"/>
<line x1="447.98" y1="309.19" x2="447.98" y2="324.10" stroke="#111" stroke-width="0.9" opacity="0.6"/>
<line x1="446.73" y1="309.19" x2="449.23" y2="309.19" stroke="#111" stroke-width="0.9" opacity="0.6"/>
<line x1="446.73" y1="324.10" x2="449.23" y2="324.10" stroke="#111" stroke-width="0.9" opacity="0.6"/>
<line x1="471.26" y1="284.46" x2="471.26" y2="298.69" stroke="#111" stroke-width="0.9" opacity="0.6"/>
<line x1="470.01" y1="284.46" x2="472.51" y2="284.46" stroke="#111" stroke-width="0.9" opacity="0.6"/>
<line x1="470.01" y1="298.69" x2="472.51" y2="298.69" stroke="#111" stroke-width="0.9" opacity="0.6"/>
<line x1="308.30" y1="370.84" x2="308.30" y2="374.91" stroke="#e8323e" stroke-width="0.9" opacity="0.6"/>
<line x1="307.05" y1="370.84" x2="309.55" y2="370.84" stroke="#e8323e" stroke-width="0.9" opacity="0.6"/>
<line x1="307.05" y1="374.91" x2="309.55" y2="374.91" stroke="#e8323e" stroke-width="0.9" opacity="0.6"/>
<line x1="325.76" y1="364.75" x2="325.76" y2="368.81" stroke="#e8323e" stroke-width="0.9" opacity="0.6"/>
<line x1="324.51" y1="364.75" x2="327.01" y2="364.75" stroke="#e8323e" stroke-width="0.9" opacity="0.6"/>
<line x1="324.51" y1="368.81" x2="327.01" y2="368.81" stroke="#e8323e" stroke-width="0.9" opacity="0.6"/>
<line x1="349.04" y1="360.21" x2="349.04" y2="365.63" stroke="#e8323e" stroke-width="0.9" opacity="0.6"/>
<line x1="347.79" y1="360.21" x2="350.29" y2="360.21" stroke="#e8323e" stroke-width="0.9" opacity="0.6"/>
<line x1="347.79" y1="365.63" x2="350.29" y2="365.63" stroke="#e8323e" stroke-width="0.9" opacity="0.6"/>
<line x1="366.50" y1="360.88" x2="366.50" y2="364.95" stroke="#e8323e" stroke-width="0.9" opacity="0.6"/>
<line x1="365.25" y1="360.88" x2="367.75" y2="360.88" stroke="#e8323e" stroke-width="0.9" opacity="0.6"/>
<line x1="365.25" y1="364.95" x2="367.75" y2="364.95" stroke="#e8323e" stroke-width="0.9" opacity="0.6"/>
<line x1="389.78" y1="360.88" x2="389.78" y2="364.95" stroke="#e8323e" stroke-width="0.9" opacity="0.6"/>
<line x1="388.53" y1="360.88" x2="391.03" y2="360.88" stroke="#e8323e" stroke-width="0.9" opacity="0.6"/>
<line x1="388.53" y1="364.95" x2="391.03" y2="364.95" stroke="#e8323e" stroke-width="0.9" opacity="0.6"/>
<line x1="407.24" y1="360.00" x2="407.24" y2="364.07" stroke="#e8323e" stroke-width="0.9" opacity="0.6"/>
<line x1="405.99" y1="360.00" x2="408.49" y2="360.00" stroke="#e8323e" stroke-width="0.9" opacity="0.6"/>
<line x1="405.99" y1="364.07" x2="408.49" y2="364.07" stroke="#e8323e" stroke-width="0.9" opacity="0.6"/>
<line x1="430.52" y1="360.68" x2="430.52" y2="364.75" stroke="#e8323e" stroke-width="0.9" opacity="0.6"/>
<line x1="429.27" y1="360.68" x2="431.77" y2="360.68" stroke="#e8323e" stroke-width="0.9" opacity="0.6"/>
<line x1="429.27" y1="364.75" x2="431.77" y2="364.75" stroke="#e8323e" stroke-width="0.9" opacity="0.6"/>
<line x1="447.98" y1="360.00" x2="447.98" y2="364.07" stroke="#e8323e" stroke-width="0.9" opacity="0.6"/>
<line x1="446.73" y1="360.00" x2="449.23" y2="360.00" stroke="#e8323e" stroke-width="0.9" opacity="0.6"/>
<line x1="446.73" y1="364.07" x2="449.23" y2="364.07" stroke="#e8323e" stroke-width="0.9" opacity="0.6"/>
<line x1="471.26" y1="359.66" x2="471.26" y2="363.73" stroke="#e8323e" stroke-width="0.9" opacity="0.6"/>
<line x1="470.01" y1="359.66" x2="472.51" y2="359.66" stroke="#e8323e" stroke-width="0.9" opacity="0.6"/>
<line x1="470.01" y1="363.73" x2="472.51" y2="363.73" stroke="#e8323e" stroke-width="0.9" opacity="0.6"/>
<line x1="308.30" y1="371.52" x2="308.30" y2="375.58" stroke="#4a66b4" stroke-width="0.9" opacity="0.6"/>
<line x1="307.05" y1="371.52" x2="309.55" y2="371.52" stroke="#4a66b4" stroke-width="0.9" opacity="0.6"/>
<line x1="307.05" y1="375.58" x2="309.55" y2="375.58" stroke="#4a66b4" stroke-width="0.9" opacity="0.6"/>
<line x1="325.76" y1="367.45" x2="325.76" y2="371.52" stroke="#4a66b4" stroke-width="0.9" opacity="0.6"/>
<line x1="324.51" y1="367.45" x2="327.01" y2="367.45" stroke="#4a66b4" stroke-width="0.9" opacity="0.6"/>
<line x1="324.51" y1="371.52" x2="327.01" y2="371.52" stroke="#4a66b4" stroke-width="0.9" opacity="0.6"/>
<line x1="349.04" y1="359.32" x2="349.04" y2="366.10" stroke="#4a66b4" stroke-width="0.9" opacity="0.6"/>
<line x1="347.79" y1="359.32" x2="350.29" y2="359.32" stroke="#4a66b4" stroke-width="0.9" opacity="0.6"/>
<line x1="347.79" y1="366.10" x2="350.29" y2="366.10" stroke="#4a66b4" stroke-width="0.9" opacity="0.6"/>
<line x1="366.50" y1="356.89" x2="366.50" y2="363.66" stroke="#4a66b4" stroke-width="0.9" opacity="0.6"/>
<line x1="365.25" y1="356.89" x2="367.75" y2="356.89" stroke="#4a66b4" stroke-width="0.9" opacity="0.6"/>
<line x1="365.25" y1="363.66" x2="367.75" y2="363.66" stroke="#4a66b4" stroke-width="0.9" opacity="0.6"/>
<line x1="389.78" y1="348.69" x2="389.78" y2="358.17" stroke="#4a66b4" stroke-width="0.9" opacity="0.6"/>
<line x1="388.53" y1="348.69" x2="391.03" y2="348.69" stroke="#4a66b4" stroke-width="0.9" opacity="0.6"/>
<line x1="388.53" y1="358.17" x2="391.03" y2="358.17" stroke="#4a66b4" stroke-width="0.9" opacity="0.6"/>
<line x1="407.24" y1="344.62" x2="407.24" y2="356.82" stroke="#4a66b4" stroke-width="0.9" opacity="0.6"/>
<line x1="405.99" y1="344.62" x2="408.49" y2="344.62" stroke="#4a66b4" stroke-width="0.9" opacity="0.6"/>
<line x1="405.99" y1="356.82" x2="408.49" y2="356.82" stroke="#4a66b4" stroke-width="0.9" opacity="0.6"/>
<line x1="430.52" y1="338.32" x2="430.52" y2="351.87" stroke="#4a66b4" stroke-width="0.9" opacity="0.6"/>
<line x1="429.27" y1="338.32" x2="431.77" y2="338.32" stroke="#4a66b4" stroke-width="0.9" opacity="0.6"/>
<line x1="429.27" y1="351.87" x2="431.77" y2="351.87" stroke="#4a66b4" stroke-width="0.9" opacity="0.6"/>
<line x1="447.98" y1="333.24" x2="447.98" y2="349.50" stroke="#4a66b4" stroke-width="0.9" opacity="0.6"/>
<line x1="446.73" y1="333.24" x2="449.23" y2="333.24" stroke="#4a66b4" stroke-width="0.9" opacity="0.6"/>
<line x1="446.73" y1="349.50" x2="449.23" y2="349.50" stroke="#4a66b4" stroke-width="0.9" opacity="0.6"/>
<line x1="471.26" y1="328.16" x2="471.26" y2="348.49" stroke="#4a66b4" stroke-width="0.9" opacity="0.6"/>
<line x1="470.01" y1="328.16" x2="472.51" y2="328.16" stroke="#4a66b4" stroke-width="0.9" opacity="0.6"/>
<line x1="470.01" y1="348.49" x2="472.51" y2="348.49" stroke="#4a66b4" stroke-width="0.9" opacity="0.6"/>
<line x1="308.30" y1="370.84" x2="308.30" y2="374.91" stroke="#2d47a0" stroke-width="0.9" opacity="0.6"/>
<line x1="307.05" y1="370.84" x2="309.55" y2="370.84" stroke="#2d47a0" stroke-width="0.9" opacity="0.6"/>
<line x1="307.05" y1="374.91" x2="309.55" y2="374.91" stroke="#2d47a0" stroke-width="0.9" opacity="0.6"/>
<line x1="325.76" y1="366.78" x2="325.76" y2="370.84" stroke="#2d47a0" stroke-width="0.9" opacity="0.6"/>
<line x1="324.51" y1="366.78" x2="327.01" y2="366.78" stroke="#2d47a0" stroke-width="0.9" opacity="0.6"/>
<line x1="324.51" y1="370.84" x2="327.01" y2="370.84" stroke="#2d47a0" stroke-width="0.9" opacity="0.6"/>
<line x1="349.04" y1="357.29" x2="349.04" y2="364.07" stroke="#2d47a0" stroke-width="0.9" opacity="0.6"/>
<line x1="347.79" y1="357.29" x2="350.29" y2="357.29" stroke="#2d47a0" stroke-width="0.9" opacity="0.6"/>
<line x1="347.79" y1="364.07" x2="350.29" y2="364.07" stroke="#2d47a0" stroke-width="0.9" opacity="0.6"/>
<line x1="366.50" y1="354.31" x2="366.50" y2="361.09" stroke="#2d47a0" stroke-width="0.9" opacity="0.6"/>
<line x1="365.25" y1="354.31" x2="367.75" y2="354.31" stroke="#2d47a0" stroke-width="0.9" opacity="0.6"/>
<line x1="365.25" y1="361.09" x2="367.75" y2="361.09" stroke="#2d47a0" stroke-width="0.9" opacity="0.6"/>
<line x1="389.78" y1="343.74" x2="389.78" y2="353.23" stroke="#2d47a0" stroke-width="0.9" opacity="0.6"/>
<line x1="388.53" y1="343.74" x2="391.03" y2="343.74" stroke="#2d47a0" stroke-width="0.9" opacity="0.6"/>
<line x1="388.53" y1="353.23" x2="391.03" y2="353.23" stroke="#2d47a0" stroke-width="0.9" opacity="0.6"/>
<line x1="407.24" y1="340.36" x2="407.24" y2="352.55" stroke="#2d47a0" stroke-width="0.9" opacity="0.6"/>
<line x1="405.99" y1="340.36" x2="408.49" y2="340.36" stroke="#2d47a0" stroke-width="0.9" opacity="0.6"/>
<line x1="405.99" y1="352.55" x2="408.49" y2="352.55" stroke="#2d47a0" stroke-width="0.9" opacity="0.6"/>
<line x1="430.52" y1="327.48" x2="430.52" y2="350.52" stroke="#2d47a0" stroke-width="0.9" opacity="0.6"/>
<line x1="429.27" y1="327.48" x2="431.77" y2="327.48" stroke="#2d47a0" stroke-width="0.9" opacity="0.6"/>
<line x1="429.27" y1="350.52" x2="431.77" y2="350.52" stroke="#2d47a0" stroke-width="0.9" opacity="0.6"/>
<line x1="447.98" y1="324.09" x2="447.98" y2="351.19" stroke="#2d47a0" stroke-width="0.9" opacity="0.6"/>
<line x1="446.73" y1="324.09" x2="449.23" y2="324.09" stroke="#2d47a0" stroke-width="0.9" opacity="0.6"/>
<line x1="446.73" y1="351.19" x2="449.23" y2="351.19" stroke="#2d47a0" stroke-width="0.9" opacity="0.6"/>
<line x1="471.26" y1="317.32" x2="471.26" y2="349.84" stroke="#2d47a0" stroke-width="0.9" opacity="0.6"/>
<line x1="470.01" y1="317.32" x2="472.51" y2="317.32" stroke="#2d47a0" stroke-width="0.9" opacity="0.6"/>
<line x1="470.01" y1="349.84" x2="472.51" y2="349.84" stroke="#2d47a0" stroke-width="0.9" opacity="0.6"/>
<line x1="308.30" y1="370.16" x2="308.30" y2="374.23" stroke="#9b3ea0" stroke-width="0.9" opacity="0.6"/>
<line x1="307.05" y1="370.16" x2="309.55" y2="370.16" stroke="#9b3ea0" stroke-width="0.9" opacity="0.6"/>
<line x1="307.05" y1="374.23" x2="309.55" y2="374.23" stroke="#9b3ea0" stroke-width="0.9" opacity="0.6"/>
<line x1="325.76" y1="364.07" x2="325.76" y2="368.13" stroke="#9b3ea0" stroke-width="0.9" opacity="0.6"/>
<line x1="324.51" y1="364.07" x2="327.01" y2="364.07" stroke="#9b3ea0" stroke-width="0.9" opacity="0.6"/>
<line x1="324.51" y1="368.13" x2="327.01" y2="368.13" stroke="#9b3ea0" stroke-width="0.9" opacity="0.6"/>
<line x1="349.04" y1="362.92" x2="349.04" y2="368.34" stroke="#9b3ea0" stroke-width="0.9" opacity="0.6"/>
<line x1="347.79" y1="362.92" x2="350.29" y2="362.92" stroke="#9b3ea0" stroke-width="0.9" opacity="0.6"/>
<line x1="347.79" y1="368.34" x2="350.29" y2="368.34" stroke="#9b3ea0" stroke-width="0.9" opacity="0.6"/>
<line x1="366.50" y1="362.71" x2="366.50" y2="368.13" stroke="#9b3ea0" stroke-width="0.9" opacity="0.6"/>
<line x1="365.25" y1="362.71" x2="367.75" y2="362.71" stroke="#9b3ea0" stroke-width="0.9" opacity="0.6"/>
<line x1="365.25" y1="368.13" x2="367.75" y2="368.13" stroke="#9b3ea0" stroke-width="0.9" opacity="0.6"/>
<line x1="389.78" y1="367.79" x2="389.78" y2="371.86" stroke="#9b3ea0" stroke-width="0.9" opacity="0.6"/>
<line x1="388.53" y1="367.79" x2="391.03" y2="367.79" stroke="#9b3ea0" stroke-width="0.9" opacity="0.6"/>
<line x1="388.53" y1="371.86" x2="391.03" y2="371.86" stroke="#9b3ea0" stroke-width="0.9" opacity="0.6"/>
<line x1="407.24" y1="368.27" x2="407.24" y2="372.33" stroke="#9b3ea0" stroke-width="0.9" opacity="0.6"/>
<line x1="405.99" y1="368.27" x2="408.49" y2="368.27" stroke="#9b3ea0" stroke-width="0.9" opacity="0.6"/>
<line x1="405.99" y1="372.33" x2="408.49" y2="372.33" stroke="#9b3ea0" stroke-width="0.9" opacity="0.6"/>
<line x1="430.52" y1="371.05" x2="430.52" y2="375.11" stroke="#9b3ea0" stroke-width="0.9" opacity="0.6"/>
<line x1="429.27" y1="371.05" x2="431.77" y2="371.05" stroke="#9b3ea0" stroke-width="0.9" opacity="0.6"/>
<line x1="429.27" y1="375.11" x2="431.77" y2="375.11" stroke="#9b3ea0" stroke-width="0.9" opacity="0.6"/>
<line x1="447.98" y1="371.72" x2="447.98" y2="375.79" stroke="#9b3ea0" stroke-width="0.9" opacity="0.6"/>
<line x1="446.73" y1="371.72" x2="449.23" y2="371.72" stroke="#9b3ea0" stroke-width="0.9" opacity="0.6"/>
<line x1="446.73" y1="375.79" x2="449.23" y2="375.79" stroke="#9b3ea0" stroke-width="0.9" opacity="0.6"/>
<line x1="471.26" y1="372.40" x2="471.26" y2="375.11" stroke="#9b3ea0" stroke-width="0.9" opacity="0.6"/>
<line x1="470.01" y1="372.40" x2="472.51" y2="372.40" stroke="#9b3ea0" stroke-width="0.9" opacity="0.6"/>
<line x1="470.01" y1="375.11" x2="472.51" y2="375.11" stroke="#9b3ea0" stroke-width="0.9" opacity="0.6"/>
<line x1="308.30" y1="370.16" x2="308.30" y2="374.23" stroke="#c04aa0" stroke-width="0.9" opacity="0.6"/>
<line x1="307.05" y1="370.16" x2="309.55" y2="370.16" stroke="#c04aa0" stroke-width="0.9" opacity="0.6"/>
<line x1="307.05" y1="374.23" x2="309.55" y2="374.23" stroke="#c04aa0" stroke-width="0.9" opacity="0.6"/>
<line x1="325.76" y1="365.42" x2="325.76" y2="369.49" stroke="#c04aa0" stroke-width="0.9" opacity="0.6"/>
<line x1="324.51" y1="365.42" x2="327.01" y2="365.42" stroke="#c04aa0" stroke-width="0.9" opacity="0.6"/>
<line x1="324.51" y1="369.49" x2="327.01" y2="369.49" stroke="#c04aa0" stroke-width="0.9" opacity="0.6"/>
<line x1="349.04" y1="362.03" x2="349.04" y2="367.45" stroke="#c04aa0" stroke-width="0.9" opacity="0.6"/>
<line x1="347.79" y1="362.03" x2="350.29" y2="362.03" stroke="#c04aa0" stroke-width="0.9" opacity="0.6"/>
<line x1="347.79" y1="367.45" x2="350.29" y2="367.45" stroke="#c04aa0" stroke-width="0.9" opacity="0.6"/>
<line x1="366.50" y1="362.71" x2="366.50" y2="368.13" stroke="#c04aa0" stroke-width="0.9" opacity="0.6"/>
<line x1="365.25" y1="362.71" x2="367.75" y2="362.71" stroke="#c04aa0" stroke-width="0.9" opacity="0.6"/>
<line x1="365.25" y1="368.13" x2="367.75" y2="368.13" stroke="#c04aa0" stroke-width="0.9" opacity="0.6"/>
<line x1="389.78" y1="366.10" x2="389.78" y2="370.16" stroke="#c04aa0" stroke-width="0.9" opacity="0.6"/>
<line x1="388.53" y1="366.10" x2="391.03" y2="366.10" stroke="#c04aa0" stroke-width="0.9" opacity="0.6"/>
<line x1="388.53" y1="370.16" x2="391.03" y2="370.16" stroke="#c04aa0" stroke-width="0.9" opacity="0.6"/>
<line x1="407.24" y1="366.10" x2="407.24" y2="370.16" stroke="#c04aa0" stroke-width="0.9" opacity="0.6"/>
<line x1="405.99" y1="366.10" x2="408.49" y2="366.10" stroke="#c04aa0" stroke-width="0.9" opacity="0.6"/>
<line x1="405.99" y1="370.16" x2="408.49" y2="370.16" stroke="#c04aa0" stroke-width="0.9" opacity="0.6"/>
<line x1="430.52" y1="367.45" x2="430.52" y2="371.52" stroke="#c04aa0" stroke-width="0.9" opacity="0.6"/>
<line x1="429.27" y1="367.45" x2="431.77" y2="367.45" stroke="#c04aa0" stroke-width="0.9" opacity="0.6"/>
<line x1="429.27" y1="371.52" x2="431.77" y2="371.52" stroke="#c04aa0" stroke-width="0.9" opacity="0.6"/>
<line x1="447.98" y1="368.81" x2="447.98" y2="372.88" stroke="#c04aa0" stroke-width="0.9" opacity="0.6"/>
<line x1="446.73" y1="368.81" x2="449.23" y2="368.81" stroke="#c04aa0" stroke-width="0.9" opacity="0.6"/>
<line x1="446.73" y1="372.88" x2="449.23" y2="372.88" stroke="#c04aa0" stroke-width="0.9" opacity="0.6"/>
<line x1="471.26" y1="370.16" x2="471.26" y2="372.88" stroke="#c04aa0" stroke-width="0.9" opacity="0.6"/>
<line x1="470.01" y1="370.16" x2="472.51" y2="370.16" stroke="#c04aa0" stroke-width="0.9" opacity="0.6"/>
<line x1="470.01" y1="372.88" x2="472.51" y2="372.88" stroke="#c04aa0" stroke-width="0.9" opacity="0.6"/>
<polyline points="308.30,372.20 325.76,367.45 349.04,364.75 366.50,365.42 389.78,368.13 407.24,368.13 430.52,369.49 447.98,370.84 471.26,371.52" fill="none" stroke="#c04aa0" stroke-width="1.4" stroke-linejoin="round" stroke-dasharray="3,2" opacity="1"/>
<polyline points="308.30,372.20 325.76,366.10 349.04,365.63 366.50,365.42 389.78,369.83 407.24,370.30 430.52,373.08 447.98,373.76 471.26,373.76" fill="none" stroke="#9b3ea0" stroke-width="1.4" stroke-linejoin="round" opacity="1"/>
<polyline points="308.30,372.88 325.76,368.81 349.04,360.68 366.50,357.70 389.78,348.49 407.24,346.45 430.52,339.00 447.98,337.64 471.26,333.58" fill="none" stroke="#2d47a0" stroke-width="1.4" stroke-linejoin="round" stroke-dasharray="3,2" opacity="1"/>
<polyline points="308.30,373.55 325.76,369.49 349.04,362.71 366.50,360.27 389.78,353.43 407.24,350.72 430.52,345.10 447.98,341.37 471.26,338.32" fill="none" stroke="#4a66b4" stroke-width="1.4" stroke-linejoin="round" opacity="1"/>
<polyline points="308.30,372.88 325.76,366.78 349.04,362.92 366.50,362.92 389.78,362.92 407.24,362.03 430.52,362.71 447.98,362.03 471.26,361.70" fill="none" stroke="#e8323e" stroke-width="1.4" stroke-linejoin="round" opacity="1"/>
<polyline points="308.30,372.88 325.76,368.13 349.04,356.82 366.50,355.40 389.78,346.79 407.24,336.97 430.52,320.71 447.98,316.64 471.26,291.57" fill="none" stroke="#111" stroke-width="1.4" stroke-linejoin="round" opacity="1"/>
<text x="480.00" y="329.80" font-size="7.0" fill="#3a4a96" stroke="#3a4a96" stroke-width="0.2" font-weight="bold" text-anchor="start" >45% TGI NS</text>
<text x="480.00" y="338.10" font-size="7.0" fill="#3a4a96" stroke="#3a4a96" stroke-width="0.2" font-weight="bold" text-anchor="start" >48% TGI **</text>
<text x="480.00" y="362.70" font-size="7.0" fill="#e0303e" stroke="#e0303e" stroke-width="0.2" font-weight="bold" text-anchor="start" >84% TGI ***</text>
<text x="480.00" y="371.80" font-size="7.0" fill="#8f3a9c" stroke="#8f3a9c" stroke-width="0.2" font-weight="bold" text-anchor="start" >99% TGI ***</text>
<text x="480.00" y="379.80" font-size="7.0" fill="#a03c98" stroke="#a03c98" stroke-width="0.2" font-weight="bold" text-anchor="start" >6% reg ***</text>
</svg>
</body></html>
